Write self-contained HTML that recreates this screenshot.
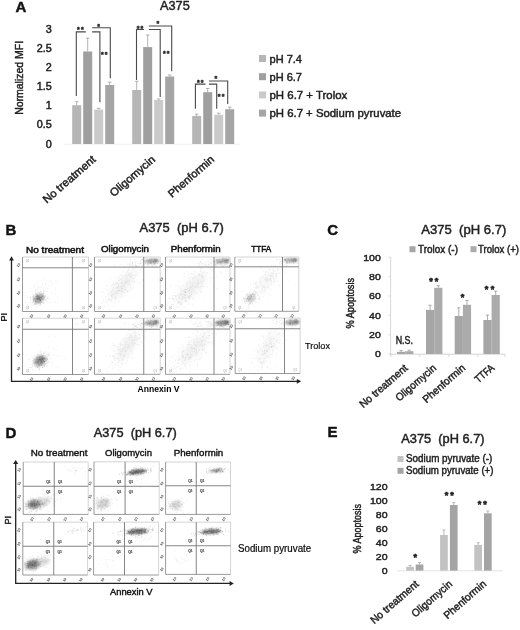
<!DOCTYPE html><html><head><meta charset="utf-8"><title>A375 figure</title><style>html,body{margin:0;padding:0;background:#fff;width:520px;height:630px;overflow:hidden}svg{display:block}</style></head><body><svg width="520" height="630" viewBox="0 0 520 630" font-family='"Liberation Sans", Arial, sans-serif'><defs><filter id="b1" x="-50%" y="-50%" width="200%" height="200%"><feGaussianBlur stdDeviation="0.9"/></filter><filter id="b2" x="-50%" y="-50%" width="200%" height="200%"><feGaussianBlur stdDeviation="1.6"/></filter><filter id="b3" x="-50%" y="-50%" width="200%" height="200%"><feGaussianBlur stdDeviation="3"/></filter></defs><rect width="520" height="630" fill="#fff"/><text x="15.60" y="11.80" font-size="15" stroke="#111" stroke-width="0.45" font-weight="bold" fill="#111">A</text>
<text x="160.00" y="9.60" font-size="13" stroke="#222" stroke-width="0.45" fill="#222" textLength="29.80" lengthAdjust="spacingAndGlyphs">A375</text>
<text x="51.80" y="33.20" font-size="10.0" stroke="#222" stroke-width="0.45" text-anchor="end" fill="#222" textLength="6.00" lengthAdjust="spacingAndGlyphs">3</text>
<text x="51.80" y="52.25" font-size="10.0" stroke="#222" stroke-width="0.45" text-anchor="end" fill="#222" textLength="15.00" lengthAdjust="spacingAndGlyphs">2.5</text>
<text x="51.80" y="71.30" font-size="10.0" stroke="#222" stroke-width="0.45" text-anchor="end" fill="#222" textLength="6.00" lengthAdjust="spacingAndGlyphs">2</text>
<text x="51.80" y="90.35" font-size="10.0" stroke="#222" stroke-width="0.45" text-anchor="end" fill="#222" textLength="15.00" lengthAdjust="spacingAndGlyphs">1.5</text>
<text x="51.80" y="109.40" font-size="10.0" stroke="#222" stroke-width="0.45" text-anchor="end" fill="#222" textLength="6.00" lengthAdjust="spacingAndGlyphs">1</text>
<text x="51.80" y="128.45" font-size="10.0" stroke="#222" stroke-width="0.45" text-anchor="end" fill="#222" textLength="15.00" lengthAdjust="spacingAndGlyphs">0.5</text>
<text x="51.80" y="147.50" font-size="10.0" stroke="#222" stroke-width="0.45" text-anchor="end" fill="#222" textLength="6.00" lengthAdjust="spacingAndGlyphs">0</text>
<text x="23.20" y="77.85" font-size="10.5" stroke="#222" stroke-width="0.45" text-anchor="middle" fill="#222" textLength="74.00" lengthAdjust="spacingAndGlyphs" transform="rotate(-90 23.20 77.85)">Normalized MFI</text>
<line x1="64.00" y1="144.30" x2="240.00" y2="144.30" stroke="#ececec" stroke-width="0.8"/>
<rect x="72.20" y="105.20" width="9.00" height="38.80" fill="#b6b6b6"/>
<line x1="76.70" y1="101.70" x2="76.70" y2="105.20" stroke="#a0a0a0" stroke-width="0.8"/>
<line x1="74.90" y1="101.70" x2="78.50" y2="101.70" stroke="#a0a0a0" stroke-width="0.8"/>
<rect x="83.20" y="51.50" width="9.00" height="92.50" fill="#9f9f9f"/>
<line x1="87.70" y1="38.20" x2="87.70" y2="51.50" stroke="#a0a0a0" stroke-width="0.8"/>
<line x1="85.90" y1="38.20" x2="89.50" y2="38.20" stroke="#a0a0a0" stroke-width="0.8"/>
<rect x="94.20" y="109.60" width="9.00" height="34.40" fill="#cacaca"/>
<line x1="98.70" y1="108.30" x2="98.70" y2="109.60" stroke="#a0a0a0" stroke-width="0.8"/>
<line x1="96.90" y1="108.30" x2="100.50" y2="108.30" stroke="#a0a0a0" stroke-width="0.8"/>
<rect x="105.20" y="85.00" width="9.00" height="59.00" fill="#a5a5a5"/>
<line x1="109.70" y1="82.10" x2="109.70" y2="85.00" stroke="#a0a0a0" stroke-width="0.8"/>
<line x1="107.90" y1="82.10" x2="111.50" y2="82.10" stroke="#a0a0a0" stroke-width="0.8"/>
<rect x="132.20" y="90.00" width="9.00" height="54.00" fill="#b6b6b6"/>
<line x1="136.70" y1="81.30" x2="136.70" y2="90.00" stroke="#a0a0a0" stroke-width="0.8"/>
<line x1="134.90" y1="81.30" x2="138.50" y2="81.30" stroke="#a0a0a0" stroke-width="0.8"/>
<rect x="143.20" y="47.10" width="9.00" height="96.90" fill="#9f9f9f"/>
<line x1="147.70" y1="35.00" x2="147.70" y2="47.10" stroke="#a0a0a0" stroke-width="0.8"/>
<line x1="145.90" y1="35.00" x2="149.50" y2="35.00" stroke="#a0a0a0" stroke-width="0.8"/>
<rect x="154.20" y="100.00" width="9.00" height="44.00" fill="#cacaca"/>
<line x1="158.70" y1="99.00" x2="158.70" y2="100.00" stroke="#a0a0a0" stroke-width="0.8"/>
<line x1="156.90" y1="99.00" x2="160.50" y2="99.00" stroke="#a0a0a0" stroke-width="0.8"/>
<rect x="165.20" y="76.50" width="9.00" height="67.50" fill="#a5a5a5"/>
<line x1="169.70" y1="75.00" x2="169.70" y2="76.50" stroke="#a0a0a0" stroke-width="0.8"/>
<line x1="167.90" y1="75.00" x2="171.50" y2="75.00" stroke="#a0a0a0" stroke-width="0.8"/>
<rect x="192.20" y="115.90" width="9.00" height="28.10" fill="#b6b6b6"/>
<line x1="196.70" y1="114.20" x2="196.70" y2="115.90" stroke="#a0a0a0" stroke-width="0.8"/>
<line x1="194.90" y1="114.20" x2="198.50" y2="114.20" stroke="#a0a0a0" stroke-width="0.8"/>
<rect x="203.20" y="92.20" width="9.00" height="51.80" fill="#9f9f9f"/>
<line x1="207.70" y1="88.50" x2="207.70" y2="92.20" stroke="#a0a0a0" stroke-width="0.8"/>
<line x1="205.90" y1="88.50" x2="209.50" y2="88.50" stroke="#a0a0a0" stroke-width="0.8"/>
<rect x="214.20" y="114.80" width="9.00" height="29.20" fill="#cacaca"/>
<line x1="218.70" y1="113.20" x2="218.70" y2="114.80" stroke="#a0a0a0" stroke-width="0.8"/>
<line x1="216.90" y1="113.20" x2="220.50" y2="113.20" stroke="#a0a0a0" stroke-width="0.8"/>
<rect x="225.20" y="109.20" width="9.00" height="34.80" fill="#a5a5a5"/>
<line x1="229.70" y1="107.20" x2="229.70" y2="109.20" stroke="#a0a0a0" stroke-width="0.8"/>
<line x1="227.90" y1="107.20" x2="231.50" y2="107.20" stroke="#a0a0a0" stroke-width="0.8"/>
<path d="M76.3 96.0V31.9H85.8M92.1 31.9H99.9V102.3" stroke="#4a4a4a" stroke-width="1.1" fill="none"/>
<path d="M92.1 27.8V27.8H110.3V78.3" stroke="#4a4a4a" stroke-width="1.1" fill="none"/>
<text x="78.45" y="31.57" font-size="7" stroke="#222" stroke-width="0.4" text-anchor="middle" font-weight="bold" fill="#222">*</text>
<text x="82.25" y="31.57" font-size="7" stroke="#222" stroke-width="0.4" text-anchor="middle" font-weight="bold" fill="#222">*</text>
<text x="98.70" y="28.57" font-size="7" stroke="#222" stroke-width="0.4" text-anchor="middle" font-weight="bold" fill="#222">*</text>
<text x="102.35" y="57.27" font-size="7" stroke="#222" stroke-width="0.4" text-anchor="middle" font-weight="bold" fill="#222">*</text>
<text x="106.15" y="57.27" font-size="7" stroke="#222" stroke-width="0.4" text-anchor="middle" font-weight="bold" fill="#222">*</text>
<path d="M136.5 80.0V29.5H144.0M148.9 29.5H160.2V97.0" stroke="#4a4a4a" stroke-width="1.1" fill="none"/>
<path d="M148.9 26.0V26.0H171.7V71.3" stroke="#4a4a4a" stroke-width="1.1" fill="none"/>
<text x="138.10" y="30.57" font-size="7" stroke="#222" stroke-width="0.4" text-anchor="middle" font-weight="bold" fill="#222">*</text>
<text x="141.90" y="30.57" font-size="7" stroke="#222" stroke-width="0.4" text-anchor="middle" font-weight="bold" fill="#222">*</text>
<text x="157.90" y="25.57" font-size="7" stroke="#222" stroke-width="0.4" text-anchor="middle" font-weight="bold" fill="#222">*</text>
<text x="164.30" y="56.07" font-size="7" stroke="#222" stroke-width="0.4" text-anchor="middle" font-weight="bold" fill="#222">*</text>
<text x="168.10" y="56.07" font-size="7" stroke="#222" stroke-width="0.4" text-anchor="middle" font-weight="bold" fill="#222">*</text>
<path d="M195.4 108.7V84.1H205.5M208.9 84.1H216.7V108.7" stroke="#4a4a4a" stroke-width="1.1" fill="none"/>
<path d="M208.9 81.0V81.0H227.7V104.0" stroke="#4a4a4a" stroke-width="1.1" fill="none"/>
<text x="198.30" y="84.57" font-size="7" stroke="#222" stroke-width="0.4" text-anchor="middle" font-weight="bold" fill="#222">*</text>
<text x="202.10" y="84.57" font-size="7" stroke="#222" stroke-width="0.4" text-anchor="middle" font-weight="bold" fill="#222">*</text>
<text x="215.90" y="81.37" font-size="7" stroke="#222" stroke-width="0.4" text-anchor="middle" font-weight="bold" fill="#222">*</text>
<text x="219.20" y="99.17" font-size="7" stroke="#222" stroke-width="0.4" text-anchor="middle" font-weight="bold" fill="#222">*</text>
<text x="223.00" y="99.17" font-size="7" stroke="#222" stroke-width="0.4" text-anchor="middle" font-weight="bold" fill="#222">*</text>
<text x="96.50" y="160.50" font-size="11" stroke="#222" stroke-width="0.45" text-anchor="end" fill="#222" textLength="66.00" lengthAdjust="spacingAndGlyphs" transform="rotate(-41 96.50 160.50)">No treatment</text>
<text x="156.00" y="160.50" font-size="11" stroke="#222" stroke-width="0.45" text-anchor="end" fill="#222" textLength="56.00" lengthAdjust="spacingAndGlyphs" transform="rotate(-41 156.00 160.50)">Oligomycin</text>
<text x="215.00" y="160.50" font-size="11" stroke="#222" stroke-width="0.45" text-anchor="end" fill="#222" textLength="57.00" lengthAdjust="spacingAndGlyphs" transform="rotate(-41 215.00 160.50)">Phenformin</text>
<rect x="259.00" y="55.00" width="7.00" height="7.00" fill="#b6b6b6"/>
<text x="269.50" y="62.50" font-size="10.8" stroke="#222" stroke-width="0.45" fill="#222" textLength="32.50" lengthAdjust="spacingAndGlyphs">pH 7.4</text>
<rect x="259.00" y="73.20" width="7.00" height="7.00" fill="#9f9f9f"/>
<text x="269.50" y="80.70" font-size="10.8" stroke="#222" stroke-width="0.45" fill="#222" textLength="32.50" lengthAdjust="spacingAndGlyphs">pH 6.7</text>
<rect x="259.00" y="91.40" width="7.00" height="7.00" fill="#cacaca"/>
<text x="269.50" y="98.90" font-size="10.8" stroke="#222" stroke-width="0.45" fill="#222" textLength="77.80" lengthAdjust="spacingAndGlyphs">pH 6.7 + Trolox</text>
<rect x="259.00" y="109.60" width="7.00" height="7.00" fill="#a5a5a5"/>
<text x="269.50" y="117.10" font-size="10.8" stroke="#222" stroke-width="0.45" fill="#222" textLength="131.60" lengthAdjust="spacingAndGlyphs">pH 6.7 + Sodium pyruvate</text>
<text x="5.50" y="234.80" font-size="15" stroke="#111" stroke-width="0.45" font-weight="bold" fill="#111">B</text>
<text x="139.50" y="231.75" font-size="12.6" stroke="#222" stroke-width="0.45" fill="#222" textLength="84.30" lengthAdjust="spacingAndGlyphs">A375  (pH 6.7)</text>
<text x="26.00" y="253.00" font-size="9.6" stroke="#1a1a1a" stroke-width="0.55" textLength="58.00" lengthAdjust="spacingAndGlyphs">No treatment</text>
<text x="101.00" y="252.20" font-size="9.6" stroke="#1a1a1a" stroke-width="0.55" textLength="48.00" lengthAdjust="spacingAndGlyphs">Oligomycin</text>
<text x="170.75" y="251.50" font-size="9.6" stroke="#1a1a1a" stroke-width="0.55" textLength="49.80" lengthAdjust="spacingAndGlyphs">Phenformin</text>
<text x="251.25" y="251.80" font-size="9.6" stroke="#1a1a1a" stroke-width="0.55" textLength="20.00" lengthAdjust="spacingAndGlyphs">TTFA</text>
<path d="M11.5 259V381.3H298" stroke="#222" stroke-width="1.3" fill="none"/>
<path d="M11.5 256.2L9.1 260.6H13.9Z" stroke="none" stroke-width="1" fill="#222"/>
<path d="M301.2 381.3L296.8 378.9V383.7Z" stroke="none" stroke-width="1" fill="#222"/>
<text x="7.20" y="317.30" font-size="9.6" text-anchor="middle" font-weight="bold" fill="#222" transform="rotate(-90 7.20 317.30)">PI</text>
<text x="137.50" y="392.20" font-size="9.4" font-weight="bold" textLength="42.00" lengthAdjust="spacingAndGlyphs">Annexin V</text>
<text x="305.00" y="349.30" font-size="9.7" stroke="#1a1a1a" stroke-width="0.2" textLength="25.00" lengthAdjust="spacingAndGlyphs">Trolox</text>
<ellipse cx="38.8" cy="298.5" rx="5.5" ry="4.2" fill="#666" fill-opacity="0.55" filter="url(#b2)" transform="rotate(-35 38.8 298.5)"/>
<path d="M39.3 299.2h.9M36.4 296.9h.9M35.6 297.1h.9M41.3 301.7h.9M36.1 298.1h.9M41.0 298.3h.9M37.5 296.0h.9M39.9 300.3h.9M33.6 300.5h.9M30.4 299.7h.9M32.4 302.1h.9M35.1 302.1h.9M39.0 297.7h.9M29.6 303.0h.9M38.8 298.9h.9M33.0 300.8h.9M34.2 298.8h.9M40.9 294.1h.9M40.2 300.7h.9M36.7 299.6h.9M39.3 298.4h.9M34.9 301.5h.9M40.6 291.6h.9M41.8 296.8h.9M40.1 304.9h.9M39.2 293.8h.9M40.0 299.7h.9M39.4 300.6h.9M39.7 300.3h.9M42.4 293.5h.9M38.7 296.9h.9M37.2 295.3h.9M36.6 299.3h.9M43.7 299.3h.9M33.1 299.6h.9M37.5 292.1h.9M37.1 299.3h.9M44.1 297.3h.9M37.1 298.3h.9M40.6 302.8h.9M36.9 298.7h.9M39.7 297.4h.9M36.2 296.2h.9M38.0 297.4h.9M43.7 297.4h.9M39.9 300.2h.9M39.5 301.9h.9M39.8 299.9h.9M35.2 302.3h.9M29.8 297.4h.9M36.3 297.0h.9M43.2 303.6h.9M35.0 298.9h.9M40.3 299.2h.9M37.9 298.4h.9M42.0 298.2h.9M35.3 300.7h.9M37.1 295.8h.9M38.2 295.8h.9M42.3 296.7h.9M38.1 296.8h.9M35.0 293.9h.9M35.7 302.0h.9M33.3 305.5h.9M34.4 304.4h.9M37.4 302.4h.9M36.6 294.4h.9M45.4 299.2h.9M38.1 298.0h.9M36.6 296.5h.9M41.5 294.6h.9M37.3 296.7h.9M34.5 296.8h.9M42.7 295.2h.9M42.0 296.3h.9M36.0 299.3h.9M37.0 299.8h.9M37.1 298.6h.9M32.9 299.7h.9M43.1 293.1h.9M35.9 301.7h.9M40.9 291.7h.9M37.0 297.4h.9M34.3 304.3h.9M38.8 298.7h.9M37.1 301.3h.9M36.8 299.4h.9M33.1 298.1h.9M42.3 294.2h.9M39.7 297.7h.9M36.5 298.3h.9M40.3 296.3h.9M38.3 298.9h.9M43.8 297.5h.9M39.1 296.2h.9M35.9 304.0h.9M41.7 295.9h.9M41.9 299.2h.9M43.1 298.9h.9M39.9 303.3h.9M36.2 303.5h.9M41.9 299.5h.9M47.5 297.8h.9M32.1 297.0h.9M39.7 294.1h.9M40.2 300.6h.9M29.8 297.1h.9M39.7 298.0h.9M38.1 299.2h.9M33.4 296.8h.9M36.6 296.5h.9M34.3 303.5h.9M39.3 299.6h.9M34.4 299.2h.9M34.0 298.6h.9M38.1 296.1h.9M40.6 298.5h.9M43.0 290.4h.9M41.6 296.2h.9M36.3 295.0h.9M38.6 301.4h.9M38.7 298.9h.9M39.8 302.0h.9M34.9 293.1h.9M33.1 295.2h.9M27.2 304.7h.9M43.3 295.6h.9M33.3 298.9h.9M42.8 296.3h.9M38.9 298.3h.9M40.3 300.4h.9M41.0 297.8h.9M36.3 302.1h.9M38.4 302.8h.9M34.4 301.1h.9M36.5 295.3h.9M47.0 298.1h.9M38.6 301.5h.9M35.5 291.2h.9M39.5 297.8h.9M37.2 295.7h.9M37.6 298.7h.9M43.3 296.6h.9M41.4 302.3h.9M36.3 298.8h.9M35.5 306.5h.9M43.5 298.5h.9M41.2 297.2h.9M39.1 297.4h.9M38.2 299.1h.9M44.7 296.4h.9M37.6 297.2h.9M39.5 303.9h.9M40.6 297.5h.9M35.8 296.6h.9M40.1 300.8h.9M37.1 298.8h.9M38.3 299.3h.9M33.2 301.6h.9M37.5 302.6h.9" stroke="#444" stroke-opacity="0.17" stroke-width="0.9" fill="none"/>
<path d="M38.7 303.0h.9M52.3 283.5h.9M38.3 299.9h.9M37.5 289.7h.9M54.6 302.8h.9M39.1 295.6h.9M35.4 303.4h.9M27.5 297.1h.9M47.7 281.9h.9M57.1 296.2h.9M46.5 296.3h.9M56.1 281.4h.9M31.4 291.6h.9M49.0 302.7h.9M45.1 283.8h.9M33.2 297.8h.9M43.3 292.0h.9M45.0 295.2h.9M39.5 296.7h.9M43.2 293.2h.9M54.3 301.8h.9M46.8 291.5h.9M30.8 307.9h.9M51.7 293.3h.9M33.2 286.8h.9M36.1 293.7h.9M57.0 303.0h.9M40.2 289.4h.9M32.8 302.2h.9M35.5 290.0h.9M37.7 288.1h.9M55.3 293.5h.9M48.2 285.5h.9M45.3 291.0h.9M37.5 295.7h.9M25.5 295.6h.9M47.2 288.9h.9M48.2 299.0h.9M25.2 301.9h.9M45.1 296.0h.9M43.7 302.9h.9M38.2 287.1h.9M38.5 305.3h.9M37.0 281.8h.9M55.0 289.5h.9M50.6 284.3h.9M34.7 290.9h.9M60.6 277.8h.9M51.2 281.3h.9M35.7 285.0h.9M43.5 302.7h.9M37.2 308.8h.9M39.9 287.2h.9M36.1 295.8h.9M39.2 292.4h.9M34.3 298.7h.9M28.3 294.7h.9M45.6 300.0h.9M30.3 304.8h.9M32.6 293.9h.9M46.2 286.7h.9M50.0 281.2h.9M43.9 291.3h.9M38.9 303.0h.9M43.5 299.2h.9M36.8 289.5h.9M41.5 295.9h.9M45.3 284.0h.9M34.0 286.0h.9M42.1 285.0h.9M27.9 306.3h.9M43.6 279.7h.9M30.3 298.0h.9M35.1 304.3h.9M32.6 296.3h.9M43.1 287.2h.9M40.9 287.0h.9M24.5 292.9h.9M54.8 281.3h.9" stroke="#888" stroke-opacity="0.17" stroke-width="0.9" fill="none"/>
<path d="M79.5 261.9h.9M79.0 262.1h.9M68.7 260.0h.9M70.0 263.5h.9M82.9 260.1h.9M69.7 261.3h.9M81.2 259.8h.9M84.2 259.8h.9" stroke="#999" stroke-opacity="0.17" stroke-width="0.9" fill="none"/>
<path d="M22.50 257.00H88.50V311.50" stroke="#cfcfcf" stroke-width="0.9" fill="none"/>
<path d="M22.50 257.00V311.50H88.50" stroke="#8e8e8e" stroke-width="0.9" fill="none"/>
<line x1="22.50" y1="267.80" x2="88.50" y2="267.80" stroke="#777" stroke-width="0.9"/>
<line x1="72.40" y1="257.00" x2="72.40" y2="311.50" stroke="#777" stroke-width="0.9"/>
<text x="20.50" y="264.19" font-size="3.4" stroke="#666" stroke-width="0.15" text-anchor="end" fill="#666" transform="rotate(-60 20.50 264.19)">10</text>
<text x="20.50" y="278.37" font-size="3.4" stroke="#666" stroke-width="0.15" text-anchor="end" fill="#666" transform="rotate(-60 20.50 278.37)">10</text>
<text x="20.50" y="291.99" font-size="3.4" stroke="#666" stroke-width="0.15" text-anchor="end" fill="#666" transform="rotate(-60 20.50 291.99)">10</text>
<text x="20.50" y="305.07" font-size="3.4" stroke="#666" stroke-width="0.15" text-anchor="end" fill="#666" transform="rotate(-60 20.50 305.07)">10</text>
<text x="33.40" y="315.30" font-size="3.4" stroke="#666" stroke-width="0.15" text-anchor="end" fill="#666" transform="rotate(-60 33.40 315.30)">10</text>
<text x="50.56" y="315.30" font-size="3.4" stroke="#666" stroke-width="0.15" text-anchor="end" fill="#666" transform="rotate(-60 50.56 315.30)">10</text>
<text x="67.06" y="315.30" font-size="3.4" stroke="#666" stroke-width="0.15" text-anchor="end" fill="#666" transform="rotate(-60 67.06 315.30)">10</text>
<text x="83.56" y="315.30" font-size="3.4" stroke="#666" stroke-width="0.15" text-anchor="end" fill="#666" transform="rotate(-60 83.56 315.30)">10</text>
<text x="27.50" y="262.00" font-size="2.8" text-anchor="middle" fill="#999">Q1</text>
<text x="83.50" y="262.00" font-size="2.8" text-anchor="middle" fill="#999">Q1</text>
<text x="27.50" y="309.00" font-size="2.8" text-anchor="middle" fill="#999">Q1</text>
<text x="83.50" y="309.00" font-size="2.8" text-anchor="middle" fill="#999">Q1</text>
<ellipse cx="151.0" cy="261.5" rx="7.0" ry="2.6" fill="#999" fill-opacity="0.6" filter="url(#b1)" transform="rotate(0 151.0 261.5)"/>
<ellipse cx="156.0" cy="260.3" rx="2.5" ry="1.3" fill="#333" fill-opacity="0.6" filter="url(#b1)" transform="rotate(0 156.0 260.3)"/>
<ellipse cx="122.0" cy="286.0" rx="18.0" ry="5.5" fill="#ccc" fill-opacity="0.3" filter="url(#b3)" transform="rotate(-48 122.0 286.0)"/>
<path d="M112.0 284.7h.9M114.6 305.6h.9M131.3 272.3h.9M102.6 292.0h.9M116.6 291.7h.9M120.5 286.9h.9M106.7 302.4h.9M126.8 291.3h.9M111.5 297.2h.9M110.8 292.3h.9M117.0 283.0h.9M129.7 276.6h.9M124.6 281.6h.9M108.4 293.3h.9M116.6 287.5h.9M125.1 282.5h.9M104.0 306.5h.9M101.5 303.7h.9M109.6 282.7h.9M123.8 285.2h.9M118.2 286.8h.9M113.0 288.0h.9M116.1 288.0h.9M118.3 280.2h.9M125.7 283.0h.9M118.3 286.5h.9M122.6 271.7h.9M129.2 280.1h.9M127.4 283.2h.9M112.2 294.8h.9M132.3 278.1h.9M118.6 277.4h.9M134.0 282.3h.9M136.5 271.9h.9M109.7 278.9h.9M120.9 274.9h.9M102.1 302.9h.9M137.5 265.7h.9M132.8 288.4h.9M142.9 261.9h.9M113.6 284.9h.9M114.4 297.9h.9M127.7 280.5h.9M132.2 268.4h.9M124.2 289.5h.9M134.2 281.3h.9M126.0 279.0h.9M122.7 276.9h.9M122.5 288.0h.9M97.8 309.9h.9M110.4 291.7h.9M135.6 274.1h.9M113.9 294.9h.9M120.8 264.6h.9M122.6 289.9h.9M138.1 282.1h.9M138.5 270.3h.9M129.3 284.4h.9M114.6 293.9h.9M142.1 279.7h.9M119.7 288.2h.9M130.1 288.0h.9M127.6 291.9h.9M108.3 299.7h.9M122.6 291.8h.9M129.8 264.9h.9M111.1 300.8h.9M107.0 290.2h.9M137.9 272.4h.9M126.7 276.9h.9M134.8 269.8h.9M132.9 266.3h.9M111.4 299.4h.9M115.4 298.9h.9M121.7 278.7h.9M121.5 283.6h.9M131.7 270.1h.9M121.1 297.0h.9M123.7 285.9h.9M142.0 262.8h.9M109.4 300.9h.9M124.7 276.2h.9M127.8 273.3h.9M121.0 288.9h.9M128.9 275.6h.9M125.0 275.3h.9M113.0 287.6h.9M137.0 269.1h.9M110.7 295.7h.9M121.9 291.9h.9M96.4 305.9h.9M127.3 300.9h.9M134.3 271.4h.9M139.9 283.0h.9M117.4 288.1h.9M140.2 269.8h.9M128.9 274.2h.9M154.7 263.7h.9M132.4 280.1h.9M121.2 290.5h.9M129.7 274.6h.9M110.7 295.8h.9M112.5 293.7h.9M129.9 286.3h.9M103.8 302.1h.9M114.9 277.4h.9M120.4 275.4h.9M125.5 281.2h.9M117.5 290.4h.9M112.3 291.8h.9M154.8 265.9h.9M142.6 269.0h.9M118.8 301.4h.9M121.0 286.6h.9M118.5 290.7h.9M115.8 292.2h.9M106.0 300.7h.9M121.0 291.5h.9M126.9 271.4h.9M123.0 292.5h.9M126.1 282.4h.9M140.0 260.4h.9M121.0 282.9h.9M110.9 294.0h.9M133.4 278.4h.9M134.2 259.5h.9M130.8 273.8h.9M115.3 297.9h.9M101.2 292.0h.9M110.9 286.0h.9M114.8 297.0h.9M132.7 287.2h.9M113.1 283.3h.9M108.1 293.9h.9M107.5 305.7h.9M105.3 288.3h.9M130.9 275.2h.9M127.2 281.1h.9M130.6 276.8h.9M140.3 269.2h.9M128.9 281.7h.9M101.8 307.0h.9M119.4 290.6h.9M118.4 280.0h.9M117.9 284.7h.9M120.6 282.3h.9M126.4 275.1h.9M125.5 290.2h.9M112.4 289.8h.9M127.8 270.1h.9M115.4 293.1h.9M105.0 297.0h.9M107.0 285.3h.9M101.0 306.0h.9M123.2 283.1h.9M135.0 276.2h.9M117.3 283.9h.9M128.1 274.5h.9M103.1 300.4h.9M142.3 265.3h.9M135.6 267.0h.9M132.1 269.8h.9M130.1 297.5h.9M130.2 272.8h.9M122.2 288.5h.9M136.2 266.2h.9M122.7 286.2h.9M140.9 267.6h.9M128.4 269.9h.9M142.2 280.8h.9M133.4 275.4h.9M131.4 290.3h.9M109.1 299.4h.9M131.2 281.9h.9M117.4 293.6h.9M118.8 290.6h.9M115.6 283.8h.9M125.3 289.5h.9M108.1 299.5h.9M126.5 272.2h.9M120.1 279.4h.9M146.6 277.6h.9M132.4 275.4h.9M129.7 290.2h.9M108.7 309.5h.9M127.1 291.9h.9M121.8 280.7h.9M128.7 284.6h.9M124.5 287.3h.9M106.3 285.9h.9M136.9 275.2h.9M124.3 284.0h.9M134.0 268.9h.9M111.8 295.8h.9M132.2 263.2h.9M135.3 265.9h.9M112.4 307.0h.9M115.4 282.7h.9M121.0 294.8h.9M136.2 266.7h.9" stroke="#999" stroke-opacity="0.20" stroke-width="0.9" fill="none"/>
<path d="M135.3 265.4h.9M126.8 264.7h.9M131.7 262.9h.9M128.1 264.1h.9M132.2 262.9h.9M128.6 266.2h.9M133.7 265.8h.9M141.6 265.2h.9M150.2 262.3h.9M138.5 263.4h.9M146.8 267.4h.9M116.4 262.1h.9M137.3 265.6h.9M137.9 263.9h.9M135.6 265.3h.9M131.4 266.1h.9M113.9 265.3h.9M123.7 265.9h.9M130.2 262.2h.9M135.0 262.2h.9M124.7 260.9h.9M131.8 265.0h.9M140.2 263.7h.9M140.4 264.0h.9M131.3 265.1h.9M140.5 263.3h.9M130.0 263.7h.9M132.7 262.2h.9M140.2 263.2h.9M135.7 262.3h.9M134.9 264.8h.9M128.6 268.0h.9M135.0 267.6h.9M139.7 262.7h.9M128.9 264.9h.9M132.5 264.1h.9M129.7 260.4h.9M130.2 259.6h.9M135.0 262.5h.9M126.3 263.6h.9" stroke="#999" stroke-opacity="0.20" stroke-width="0.9" fill="none"/>
<path d="M152.4 258.9h.9M142.3 259.6h.9M140.8 259.8h.9M154.3 259.0h.9M152.5 260.9h.9M150.7 262.5h.9M151.6 259.7h.9M153.9 261.1h.9M155.2 261.4h.9M149.5 263.1h.9M149.2 260.1h.9M149.7 259.0h.9M151.6 265.9h.9M156.7 259.5h.9M146.6 260.8h.9M156.0 260.0h.9M147.5 263.1h.9M155.3 260.8h.9M145.4 258.7h.9M154.7 260.4h.9M153.4 264.9h.9M156.9 259.4h.9M155.3 263.6h.9M147.3 259.8h.9M150.5 258.6h.9M145.5 261.0h.9M149.9 261.8h.9M152.4 261.1h.9M151.0 260.2h.9M151.7 261.9h.9M146.4 260.3h.9M155.0 262.1h.9M147.6 265.2h.9M152.5 266.0h.9M154.9 261.9h.9M150.0 260.5h.9M149.9 260.5h.9M154.7 260.8h.9M148.8 259.3h.9M150.8 259.9h.9M150.1 263.4h.9M152.8 262.4h.9M152.8 261.6h.9M150.4 260.9h.9M154.8 259.5h.9M157.7 261.6h.9M147.3 260.6h.9M147.6 261.8h.9M147.4 263.6h.9M150.8 263.4h.9M154.2 259.1h.9M147.2 264.7h.9M152.6 261.5h.9M156.3 265.9h.9M157.5 261.8h.9M152.8 262.6h.9M147.9 259.6h.9M151.3 259.8h.9M150.7 261.7h.9M150.4 261.2h.9M153.2 263.4h.9M148.5 260.0h.9M142.8 259.8h.9M153.7 261.6h.9M145.9 260.8h.9M151.2 262.4h.9M148.0 261.0h.9M141.9 259.4h.9M149.3 261.9h.9M149.1 260.0h.9M150.7 261.5h.9M150.6 258.1h.9M150.3 260.0h.9M148.3 261.9h.9M154.2 263.1h.9M148.5 263.2h.9M156.9 263.5h.9M157.9 261.2h.9M150.1 263.0h.9M144.2 261.9h.9M148.3 260.8h.9M142.3 259.9h.9M150.9 263.1h.9M156.0 261.4h.9M150.1 260.0h.9M153.0 261.1h.9M154.0 264.7h.9M150.8 258.8h.9M146.7 258.9h.9M145.0 263.8h.9M152.1 258.8h.9M154.3 263.8h.9M149.2 260.3h.9M149.3 262.0h.9M154.2 263.6h.9M157.1 263.6h.9M157.8 262.7h.9M143.3 261.3h.9M152.6 260.8h.9" stroke="#666" stroke-opacity="0.20" stroke-width="0.9" fill="none"/>
<path d="M94.50 257.00H160.20V311.50" stroke="#cfcfcf" stroke-width="0.9" fill="none"/>
<path d="M94.50 257.00V311.50H160.20" stroke="#8e8e8e" stroke-width="0.9" fill="none"/>
<line x1="94.50" y1="267.10" x2="160.20" y2="267.10" stroke="#777" stroke-width="0.9"/>
<line x1="143.75" y1="257.00" x2="143.75" y2="311.50" stroke="#777" stroke-width="0.9"/>
<text x="92.50" y="264.19" font-size="3.4" stroke="#666" stroke-width="0.15" text-anchor="end" fill="#666" transform="rotate(-60 92.50 264.19)">10</text>
<text x="92.50" y="278.37" font-size="3.4" stroke="#666" stroke-width="0.15" text-anchor="end" fill="#666" transform="rotate(-60 92.50 278.37)">10</text>
<text x="92.50" y="291.99" font-size="3.4" stroke="#666" stroke-width="0.15" text-anchor="end" fill="#666" transform="rotate(-60 92.50 291.99)">10</text>
<text x="92.50" y="305.07" font-size="3.4" stroke="#666" stroke-width="0.15" text-anchor="end" fill="#666" transform="rotate(-60 92.50 305.07)">10</text>
<text x="105.36" y="315.30" font-size="3.4" stroke="#666" stroke-width="0.15" text-anchor="end" fill="#666" transform="rotate(-60 105.36 315.30)">10</text>
<text x="122.44" y="315.30" font-size="3.4" stroke="#666" stroke-width="0.15" text-anchor="end" fill="#666" transform="rotate(-60 122.44 315.30)">10</text>
<text x="138.86" y="315.30" font-size="3.4" stroke="#666" stroke-width="0.15" text-anchor="end" fill="#666" transform="rotate(-60 138.86 315.30)">10</text>
<text x="155.29" y="315.30" font-size="3.4" stroke="#666" stroke-width="0.15" text-anchor="end" fill="#666" transform="rotate(-60 155.29 315.30)">10</text>
<text x="99.50" y="262.00" font-size="2.8" text-anchor="middle" fill="#999">Q1</text>
<text x="155.20" y="262.00" font-size="2.8" text-anchor="middle" fill="#999">Q1</text>
<text x="99.50" y="309.00" font-size="2.8" text-anchor="middle" fill="#999">Q1</text>
<text x="155.20" y="309.00" font-size="2.8" text-anchor="middle" fill="#999">Q1</text>
<ellipse cx="222.0" cy="261.4" rx="7.0" ry="2.6" fill="#999" fill-opacity="0.6" filter="url(#b1)" transform="rotate(0 222.0 261.4)"/>
<ellipse cx="227.0" cy="260.3" rx="2.5" ry="1.3" fill="#333" fill-opacity="0.6" filter="url(#b1)" transform="rotate(0 227.0 260.3)"/>
<ellipse cx="192.0" cy="287.0" rx="19.0" ry="6.0" fill="#ccc" fill-opacity="0.3" filter="url(#b3)" transform="rotate(-45 192.0 287.0)"/>
<path d="M204.0 271.9h.9M184.4 306.9h.9M202.8 278.0h.9M210.3 277.7h.9M186.6 271.5h.9M180.0 295.1h.9M178.2 302.5h.9M207.6 267.2h.9M180.1 288.5h.9M197.3 285.3h.9M184.9 300.8h.9M180.8 290.3h.9M197.9 287.6h.9M184.0 297.8h.9M202.6 300.4h.9M187.4 303.4h.9M190.7 287.2h.9M206.5 280.1h.9M212.2 269.6h.9M180.8 293.6h.9M202.0 281.9h.9M214.5 268.0h.9M214.2 277.7h.9M188.1 278.3h.9M168.4 298.4h.9M212.0 259.8h.9M212.8 271.2h.9M221.7 265.8h.9M189.6 287.7h.9M194.0 286.5h.9M184.0 294.7h.9M192.0 279.3h.9M198.3 287.8h.9M194.4 291.1h.9M185.7 298.6h.9M183.7 273.3h.9M181.7 299.2h.9M216.3 265.1h.9M189.8 277.2h.9M220.9 273.4h.9M191.5 285.6h.9M213.1 270.5h.9M183.0 307.3h.9M172.8 304.4h.9M199.9 286.6h.9M199.8 282.5h.9M175.2 292.8h.9M189.9 283.1h.9M167.2 301.0h.9M176.9 286.4h.9M196.4 286.0h.9M185.8 301.0h.9M187.4 288.8h.9M215.9 260.2h.9M169.2 298.6h.9M198.3 283.3h.9M167.5 303.2h.9M202.4 281.5h.9M185.1 299.2h.9M192.9 270.9h.9M189.1 293.4h.9M174.4 286.4h.9M191.0 294.4h.9M211.4 278.0h.9M207.2 273.0h.9M177.4 306.9h.9M170.7 286.9h.9M220.5 272.0h.9M215.0 263.8h.9M173.4 304.1h.9M189.2 281.4h.9M189.1 289.0h.9M226.2 263.8h.9M196.5 292.8h.9M179.0 297.1h.9M200.2 268.2h.9M182.3 285.5h.9M200.7 292.2h.9M181.8 299.1h.9M173.8 295.4h.9M184.4 300.6h.9M190.4 295.4h.9M197.5 283.9h.9M198.6 275.5h.9M178.7 285.7h.9M179.4 287.5h.9M185.8 285.1h.9M195.4 287.4h.9M167.5 304.6h.9M181.2 304.2h.9M221.0 265.3h.9M193.0 298.4h.9M170.5 284.9h.9M177.4 303.0h.9M189.2 290.6h.9M167.1 306.1h.9M199.9 281.0h.9M210.1 269.5h.9M187.7 275.0h.9M180.3 303.3h.9M186.7 283.5h.9M184.6 290.0h.9M188.0 297.4h.9M199.2 274.9h.9M179.7 301.7h.9M194.9 292.8h.9M190.8 286.8h.9M175.4 295.9h.9M175.4 300.2h.9M188.8 296.5h.9M185.2 292.1h.9M207.1 287.1h.9M210.2 281.5h.9M191.4 293.7h.9M216.7 276.7h.9M201.5 284.0h.9M208.2 265.2h.9M194.4 277.0h.9M179.1 294.6h.9M190.5 289.8h.9M192.7 274.0h.9M227.1 261.9h.9M201.5 274.4h.9M193.0 290.7h.9M191.0 273.4h.9M216.0 288.4h.9M197.1 280.9h.9M207.7 261.0h.9M200.9 290.9h.9M187.2 288.2h.9M191.8 283.3h.9M211.6 259.4h.9M199.9 268.2h.9M201.8 276.3h.9M173.8 301.3h.9M210.6 258.6h.9M182.1 309.5h.9M200.5 292.0h.9M193.1 278.2h.9M196.4 293.4h.9M206.4 272.6h.9M192.3 285.8h.9M191.6 304.3h.9M187.2 282.0h.9M187.9 297.5h.9M201.2 276.6h.9M181.9 297.3h.9M202.1 272.7h.9M203.0 286.6h.9M202.0 277.2h.9M189.8 295.6h.9M194.5 277.0h.9M192.4 285.2h.9M185.8 289.4h.9M191.8 288.1h.9M177.4 307.1h.9M172.5 304.6h.9M208.9 264.1h.9M188.9 299.5h.9M184.8 291.6h.9M200.0 288.2h.9M171.9 297.6h.9M175.3 296.4h.9M192.7 278.5h.9M195.6 286.9h.9M181.5 298.7h.9M218.3 263.5h.9M182.0 296.4h.9M179.2 302.1h.9M201.5 270.3h.9M193.6 295.0h.9M185.3 295.4h.9M172.9 299.0h.9M193.5 304.0h.9M183.7 290.8h.9M182.9 294.7h.9M202.5 278.1h.9M214.7 266.7h.9M194.9 271.9h.9M189.8 288.6h.9M179.3 281.5h.9M203.4 272.3h.9M184.4 292.4h.9M190.3 292.1h.9M169.2 301.9h.9M196.9 283.3h.9M184.0 290.2h.9M179.4 299.1h.9M205.0 265.0h.9M218.2 268.0h.9M188.6 297.0h.9M171.1 304.4h.9M185.0 289.6h.9M184.4 276.5h.9M193.3 273.6h.9M180.4 295.1h.9M169.0 298.4h.9M177.0 301.9h.9M203.2 280.6h.9M173.9 298.4h.9M180.2 302.6h.9M181.5 290.9h.9M201.4 286.3h.9M201.6 286.4h.9M199.2 290.2h.9M210.1 268.1h.9M214.1 266.3h.9M189.4 281.8h.9M191.0 294.6h.9M175.3 309.2h.9M198.4 283.0h.9M198.4 274.1h.9M183.3 275.6h.9M199.2 274.2h.9M197.1 266.2h.9M201.3 275.7h.9M200.1 271.1h.9M192.3 305.7h.9" stroke="#999" stroke-opacity="0.20" stroke-width="0.9" fill="none"/>
<path d="M176.4 299.0h.9M178.1 295.9h.9M191.9 298.7h.9M174.3 295.4h.9M190.2 296.9h.9M188.8 298.4h.9M177.6 300.8h.9M172.0 299.0h.9M184.8 292.2h.9M192.7 289.4h.9M181.1 302.9h.9M191.5 292.5h.9M177.4 303.8h.9M187.1 291.2h.9M181.1 304.1h.9M179.8 294.1h.9M178.3 297.1h.9M183.6 297.2h.9M189.1 295.7h.9M175.9 305.3h.9M187.3 295.9h.9M185.3 292.3h.9M180.0 304.5h.9M171.6 295.5h.9M184.9 291.8h.9M177.0 294.9h.9M172.9 299.6h.9M181.3 300.5h.9M173.4 309.2h.9M173.8 299.3h.9M184.9 295.2h.9M179.7 309.6h.9M178.7 302.1h.9M186.5 301.6h.9M182.5 302.8h.9M181.5 304.3h.9M177.6 299.8h.9M191.5 291.7h.9M188.3 304.4h.9M181.6 294.1h.9M182.3 291.5h.9M190.3 297.3h.9M177.8 298.3h.9M182.8 297.4h.9M179.0 303.5h.9M171.5 304.5h.9M179.4 298.7h.9M180.3 293.1h.9M184.2 295.2h.9M175.5 296.3h.9M177.5 303.7h.9M177.7 301.9h.9M189.5 297.1h.9M188.4 291.1h.9M179.6 305.3h.9M186.3 300.2h.9M185.1 301.6h.9M187.7 296.9h.9M185.3 297.3h.9M183.7 297.8h.9" stroke="#888" stroke-opacity="0.17" stroke-width="0.9" fill="none"/>
<path d="M210.9 263.0h.9M216.9 263.8h.9M210.9 263.8h.9M201.0 268.1h.9M200.5 261.4h.9M197.3 263.4h.9M220.2 264.4h.9M210.5 262.0h.9M205.8 265.3h.9M217.4 262.6h.9M207.8 264.6h.9M194.8 264.0h.9M200.9 259.3h.9M207.8 265.1h.9M199.5 261.3h.9M214.8 264.5h.9M211.1 266.8h.9M198.8 265.6h.9M201.1 263.9h.9M202.3 264.0h.9M211.9 264.2h.9M201.8 263.4h.9M205.7 262.2h.9M199.0 263.9h.9M198.5 263.8h.9M198.1 268.0h.9M213.6 264.9h.9M202.6 268.4h.9M205.6 263.8h.9M205.4 264.6h.9M214.3 264.0h.9M219.8 262.2h.9M208.6 262.0h.9M217.5 263.3h.9M202.5 265.8h.9M213.0 261.8h.9M200.2 261.2h.9M204.1 263.8h.9M200.2 262.6h.9M199.9 262.5h.9" stroke="#999" stroke-opacity="0.20" stroke-width="0.9" fill="none"/>
<path d="M224.6 264.2h.9M212.3 261.3h.9M219.9 262.4h.9M217.2 261.2h.9M216.8 262.8h.9M222.5 261.2h.9M223.9 261.1h.9M214.2 262.6h.9M223.4 261.2h.9M226.9 263.7h.9M216.5 260.1h.9M218.3 259.4h.9M218.8 260.6h.9M214.1 261.6h.9M215.6 259.3h.9M226.6 260.3h.9M221.6 262.6h.9M226.1 260.9h.9M222.2 260.0h.9M216.5 261.5h.9M225.6 262.4h.9M219.3 261.3h.9M215.6 261.9h.9M222.8 266.4h.9M218.6 261.7h.9M215.7 259.9h.9M220.2 262.1h.9M221.2 259.9h.9M225.9 260.5h.9M219.5 259.0h.9M218.1 262.7h.9M213.9 261.4h.9M225.6 260.8h.9M223.2 259.5h.9M223.2 258.3h.9M216.8 263.3h.9M228.2 260.4h.9M221.1 261.5h.9M224.1 258.7h.9M226.7 263.9h.9M216.3 259.1h.9M223.8 260.3h.9M210.1 263.0h.9M222.8 260.6h.9M218.2 261.7h.9M216.8 260.1h.9M223.9 260.5h.9M219.7 264.5h.9M226.3 262.9h.9M224.6 262.4h.9M220.7 259.0h.9M220.3 262.4h.9M222.0 260.9h.9M218.3 259.4h.9M222.3 258.4h.9M222.6 261.5h.9M218.7 259.7h.9M215.1 264.9h.9M215.3 264.3h.9M225.0 260.8h.9M216.2 263.4h.9M220.5 263.4h.9M223.7 265.1h.9M219.1 262.5h.9M215.7 265.3h.9M221.4 261.2h.9M221.9 262.6h.9M227.2 262.4h.9M220.5 261.6h.9M222.1 259.9h.9M228.1 259.0h.9M227.9 263.2h.9M221.5 260.1h.9M220.9 262.4h.9M225.7 262.0h.9M227.0 260.5h.9M223.2 258.7h.9M225.8 261.8h.9M219.9 263.6h.9M222.2 258.9h.9M227.3 266.0h.9M219.4 261.6h.9M220.7 262.1h.9M225.2 263.8h.9M217.1 264.3h.9M217.3 262.0h.9M227.8 262.8h.9M217.3 260.2h.9M219.7 261.4h.9M227.7 259.2h.9M224.3 262.6h.9M224.8 262.3h.9M226.3 262.5h.9" stroke="#666" stroke-opacity="0.20" stroke-width="0.9" fill="none"/>
<path d="M165.50 257.00H230.00V311.50" stroke="#cfcfcf" stroke-width="0.9" fill="none"/>
<path d="M165.50 257.00V311.50H230.00" stroke="#8e8e8e" stroke-width="0.9" fill="none"/>
<line x1="165.50" y1="267.00" x2="230.00" y2="267.00" stroke="#777" stroke-width="0.9"/>
<line x1="214.00" y1="257.00" x2="214.00" y2="311.50" stroke="#777" stroke-width="0.9"/>
<text x="163.50" y="264.19" font-size="3.4" stroke="#666" stroke-width="0.15" text-anchor="end" fill="#666" transform="rotate(-60 163.50 264.19)">10</text>
<text x="163.50" y="278.37" font-size="3.4" stroke="#666" stroke-width="0.15" text-anchor="end" fill="#666" transform="rotate(-60 163.50 278.37)">10</text>
<text x="163.50" y="291.99" font-size="3.4" stroke="#666" stroke-width="0.15" text-anchor="end" fill="#666" transform="rotate(-60 163.50 291.99)">10</text>
<text x="163.50" y="305.07" font-size="3.4" stroke="#666" stroke-width="0.15" text-anchor="end" fill="#666" transform="rotate(-60 163.50 305.07)">10</text>
<text x="176.18" y="315.30" font-size="3.4" stroke="#666" stroke-width="0.15" text-anchor="end" fill="#666" transform="rotate(-60 176.18 315.30)">10</text>
<text x="192.94" y="315.30" font-size="3.4" stroke="#666" stroke-width="0.15" text-anchor="end" fill="#666" transform="rotate(-60 192.94 315.30)">10</text>
<text x="209.07" y="315.30" font-size="3.4" stroke="#666" stroke-width="0.15" text-anchor="end" fill="#666" transform="rotate(-60 209.07 315.30)">10</text>
<text x="225.19" y="315.30" font-size="3.4" stroke="#666" stroke-width="0.15" text-anchor="end" fill="#666" transform="rotate(-60 225.19 315.30)">10</text>
<text x="170.50" y="262.00" font-size="2.8" text-anchor="middle" fill="#999">Q1</text>
<text x="225.00" y="262.00" font-size="2.8" text-anchor="middle" fill="#999">Q1</text>
<text x="170.50" y="309.00" font-size="2.8" text-anchor="middle" fill="#999">Q1</text>
<text x="225.00" y="309.00" font-size="2.8" text-anchor="middle" fill="#999">Q1</text>
<ellipse cx="290.5" cy="260.5" rx="6.5" ry="2.5" fill="#999" fill-opacity="0.6" filter="url(#b1)" transform="rotate(0 290.5 260.5)"/>
<ellipse cx="295.0" cy="259.8" rx="2.5" ry="1.3" fill="#333" fill-opacity="0.6" filter="url(#b1)" transform="rotate(0 295.0 259.8)"/>
<ellipse cx="250.5" cy="298.0" rx="5.0" ry="3.5" fill="#999" fill-opacity="0.4" filter="url(#b2)" transform="rotate(-40 250.5 298.0)"/>
<ellipse cx="266.0" cy="282.0" rx="14.0" ry="5.0" fill="#ddd" fill-opacity="0.3" filter="url(#b3)" transform="rotate(-50 266.0 282.0)"/>
<path d="M254.0 294.1h.9M247.9 296.6h.9M244.1 302.0h.9M249.3 300.8h.9M248.6 304.9h.9M250.9 296.8h.9M246.9 298.1h.9M246.1 299.7h.9M250.2 297.6h.9M245.7 301.1h.9M248.1 300.6h.9M257.3 294.5h.9M246.6 295.3h.9M243.1 298.0h.9M251.3 294.5h.9M249.6 296.5h.9M253.3 300.8h.9M247.8 299.0h.9M249.6 301.9h.9M245.3 298.2h.9M243.7 298.5h.9M256.6 302.3h.9M249.2 302.6h.9M249.3 295.0h.9M249.2 298.2h.9M251.9 303.9h.9M245.3 303.7h.9M250.5 295.9h.9M252.5 299.5h.9M251.7 298.5h.9M249.0 291.9h.9M259.1 299.1h.9M255.3 297.7h.9M246.0 301.4h.9M247.0 298.8h.9M252.0 293.8h.9M246.7 294.2h.9M250.2 298.6h.9M247.0 298.3h.9M254.1 290.6h.9M245.8 299.0h.9M258.0 299.4h.9M250.2 295.6h.9M251.1 301.4h.9M250.3 303.5h.9M255.0 294.5h.9M253.8 297.9h.9M253.4 291.7h.9M253.4 294.2h.9M248.3 300.2h.9M248.1 296.4h.9M243.9 300.1h.9M258.5 298.5h.9M254.6 298.9h.9M248.8 299.2h.9M249.4 295.0h.9M247.6 300.8h.9M247.6 296.5h.9M251.2 296.4h.9M253.6 295.4h.9M249.8 299.0h.9M248.8 297.0h.9M250.6 300.6h.9M254.8 299.1h.9M244.6 301.5h.9M249.5 299.4h.9M248.2 298.1h.9M253.2 296.4h.9M249.3 303.9h.9M252.5 294.2h.9M251.7 294.3h.9M253.6 294.6h.9M247.4 299.3h.9M248.5 300.4h.9M251.1 297.6h.9M242.2 291.6h.9M247.4 293.7h.9M253.3 299.8h.9M250.6 296.5h.9M249.7 298.2h.9M247.8 298.2h.9M249.8 302.9h.9M252.2 300.1h.9M249.9 298.8h.9M250.8 299.4h.9M253.5 296.4h.9M247.0 298.1h.9M255.1 293.1h.9M252.2 301.9h.9M254.8 296.3h.9" stroke="#666" stroke-opacity="0.20" stroke-width="0.9" fill="none"/>
<path d="M270.1 295.4h.9M272.9 278.0h.9M258.5 279.9h.9M251.3 302.7h.9M269.9 275.5h.9M246.2 294.4h.9M256.4 282.1h.9M281.4 272.6h.9M255.4 287.8h.9M267.5 287.7h.9M275.7 275.0h.9M271.1 281.0h.9M255.1 284.2h.9M290.7 262.6h.9M270.6 267.2h.9M267.2 278.7h.9M266.3 280.2h.9M270.8 273.2h.9M277.4 270.3h.9M262.0 285.9h.9M263.7 291.0h.9M263.8 286.9h.9M255.5 282.9h.9M273.0 265.4h.9M275.9 273.5h.9M242.2 303.1h.9M256.6 286.8h.9M254.4 301.6h.9M264.6 286.7h.9M261.9 289.2h.9M256.7 292.8h.9M273.3 273.7h.9M256.3 285.2h.9M269.4 280.7h.9M259.9 283.3h.9M282.1 282.1h.9M263.6 287.5h.9M260.8 268.3h.9M264.8 277.9h.9M281.9 261.0h.9M255.7 292.6h.9M265.9 277.8h.9M260.2 278.4h.9M266.2 287.8h.9M273.9 281.8h.9M284.8 272.5h.9M278.8 265.9h.9M269.8 278.8h.9M270.5 278.2h.9M248.4 286.6h.9M250.0 285.3h.9M266.8 281.0h.9M248.2 308.6h.9M277.0 269.7h.9M293.5 263.7h.9M255.2 302.9h.9M273.0 276.9h.9M274.7 266.1h.9M255.6 288.0h.9M256.4 292.7h.9M244.3 299.8h.9M272.8 273.4h.9M263.4 270.4h.9M254.3 291.6h.9M264.2 279.6h.9M277.2 268.2h.9M266.3 281.8h.9M272.8 270.2h.9M281.5 267.1h.9M268.0 279.9h.9M276.2 277.7h.9M279.0 269.4h.9M277.2 269.6h.9M281.2 263.7h.9M262.8 276.7h.9M260.2 282.0h.9M248.9 306.6h.9M268.5 294.0h.9M244.5 290.1h.9M265.5 279.9h.9M252.7 281.2h.9M277.6 281.2h.9M268.1 297.8h.9M270.6 275.1h.9M281.5 267.6h.9M261.5 292.9h.9M252.9 283.7h.9M259.9 292.0h.9M241.8 300.3h.9M257.9 287.6h.9M271.2 284.6h.9M262.1 290.5h.9M269.2 269.8h.9M265.2 275.6h.9M280.7 268.0h.9M261.1 277.5h.9M264.5 277.8h.9M274.2 271.3h.9M259.6 296.8h.9M272.5 269.6h.9M279.0 264.1h.9M262.7 286.9h.9M255.1 291.5h.9M269.9 289.3h.9M283.3 259.3h.9M285.5 258.4h.9M274.0 279.3h.9M278.8 285.5h.9M264.4 274.6h.9M280.4 261.7h.9M250.8 276.8h.9M281.4 270.1h.9M279.5 273.5h.9M274.6 266.0h.9M265.7 290.5h.9M265.7 272.0h.9M269.7 276.2h.9M257.7 295.3h.9M255.0 282.8h.9M259.2 303.9h.9M248.4 304.8h.9M275.9 275.2h.9M249.8 298.8h.9M270.8 282.5h.9M253.7 287.6h.9M282.5 271.0h.9M268.2 274.7h.9M271.4 276.4h.9M271.4 265.8h.9M266.8 279.8h.9M253.3 298.8h.9M264.9 280.2h.9M265.4 271.7h.9M267.0 284.2h.9M273.6 281.3h.9M245.6 294.6h.9M270.7 280.0h.9M258.4 297.3h.9M250.0 289.5h.9M276.9 273.4h.9M276.9 261.0h.9M254.5 306.8h.9M286.0 262.2h.9M269.4 279.2h.9M263.5 297.0h.9M276.0 274.0h.9M274.6 279.9h.9M275.0 277.0h.9M253.7 300.7h.9M267.8 286.7h.9M280.1 270.1h.9M248.2 307.2h.9M248.4 296.6h.9M271.6 273.1h.9M287.9 280.3h.9M278.3 273.0h.9M252.6 293.0h.9M251.0 295.8h.9M250.1 295.8h.9M259.6 281.8h.9M243.5 298.3h.9M271.8 275.6h.9M282.5 270.4h.9M264.4 289.1h.9M279.8 263.9h.9M253.2 300.2h.9M240.2 306.7h.9M275.4 271.3h.9M263.6 292.2h.9M254.4 298.0h.9M256.7 286.5h.9M267.9 272.1h.9M268.8 269.3h.9M250.2 302.0h.9" stroke="#999" stroke-opacity="0.20" stroke-width="0.9" fill="none"/>
<path d="M293.4 258.2h.9M295.9 259.1h.9M290.7 261.2h.9M287.9 258.7h.9M281.5 258.0h.9M292.7 259.9h.9M284.3 259.6h.9M287.1 262.9h.9M292.3 260.6h.9M284.1 259.6h.9M288.9 261.1h.9M292.8 260.9h.9M291.1 258.7h.9M279.2 259.6h.9M285.2 259.3h.9M288.6 258.3h.9M284.4 260.3h.9M290.6 259.3h.9M292.5 260.1h.9M284.9 260.6h.9M295.8 263.0h.9M288.7 260.1h.9M293.0 260.6h.9M289.1 262.8h.9M286.4 258.6h.9M294.0 261.8h.9M295.5 258.6h.9M295.4 261.4h.9M291.1 260.0h.9M282.1 259.2h.9M295.6 259.7h.9M286.4 262.1h.9M294.9 262.3h.9M286.1 260.4h.9M295.2 259.3h.9M286.3 262.0h.9M284.9 260.3h.9M293.1 260.2h.9M286.5 260.8h.9M285.2 260.4h.9M286.8 265.3h.9M294.1 259.0h.9M285.0 259.7h.9M281.8 259.2h.9M286.3 262.1h.9M287.9 259.1h.9M283.3 258.4h.9M289.7 260.1h.9M295.7 259.4h.9M295.3 261.0h.9M283.5 261.8h.9M297.0 260.9h.9M293.8 259.8h.9M288.1 259.3h.9M294.9 261.1h.9M288.8 259.9h.9M292.8 261.1h.9M285.8 263.6h.9M291.3 260.5h.9M289.6 261.5h.9M284.7 259.3h.9M278.7 262.7h.9M280.5 261.7h.9M285.8 258.7h.9M289.0 261.0h.9M293.1 263.7h.9M291.8 262.1h.9M287.0 261.8h.9M290.8 259.7h.9M289.5 260.4h.9M291.0 261.2h.9M287.5 259.2h.9M286.9 263.3h.9M276.5 259.3h.9M297.2 263.3h.9M294.6 260.1h.9M291.8 258.9h.9M294.0 258.5h.9M288.6 262.3h.9M284.4 259.8h.9M290.8 258.1h.9M295.8 261.1h.9M282.4 260.4h.9M286.1 259.3h.9M290.4 259.2h.9" stroke="#666" stroke-opacity="0.20" stroke-width="0.9" fill="none"/>
<path d="M234.80 257.00H298.80V311.30" stroke="#cfcfcf" stroke-width="0.9" fill="none"/>
<path d="M234.80 257.00V311.30H298.80" stroke="#8e8e8e" stroke-width="0.9" fill="none"/>
<line x1="234.80" y1="266.80" x2="298.80" y2="266.80" stroke="#777" stroke-width="0.9"/>
<line x1="282.50" y1="257.00" x2="282.50" y2="311.30" stroke="#777" stroke-width="0.9"/>
<text x="232.80" y="264.17" font-size="3.4" stroke="#666" stroke-width="0.15" text-anchor="end" fill="#666" transform="rotate(-60 232.80 264.17)">10</text>
<text x="232.80" y="278.29" font-size="3.4" stroke="#666" stroke-width="0.15" text-anchor="end" fill="#666" transform="rotate(-60 232.80 278.29)">10</text>
<text x="232.80" y="291.87" font-size="3.4" stroke="#666" stroke-width="0.15" text-anchor="end" fill="#666" transform="rotate(-60 232.80 291.87)">10</text>
<text x="232.80" y="304.90" font-size="3.4" stroke="#666" stroke-width="0.15" text-anchor="end" fill="#666" transform="rotate(-60 232.80 304.90)">10</text>
<text x="245.40" y="315.10" font-size="3.4" stroke="#666" stroke-width="0.15" text-anchor="end" fill="#666" transform="rotate(-60 245.40 315.10)">10</text>
<text x="262.04" y="315.10" font-size="3.4" stroke="#666" stroke-width="0.15" text-anchor="end" fill="#666" transform="rotate(-60 262.04 315.10)">10</text>
<text x="278.04" y="315.10" font-size="3.4" stroke="#666" stroke-width="0.15" text-anchor="end" fill="#666" transform="rotate(-60 278.04 315.10)">10</text>
<text x="294.04" y="315.10" font-size="3.4" stroke="#666" stroke-width="0.15" text-anchor="end" fill="#666" transform="rotate(-60 294.04 315.10)">10</text>
<text x="239.80" y="262.00" font-size="2.8" text-anchor="middle" fill="#999">Q1</text>
<text x="293.80" y="262.00" font-size="2.8" text-anchor="middle" fill="#999">Q1</text>
<text x="239.80" y="308.80" font-size="2.8" text-anchor="middle" fill="#999">Q1</text>
<text x="293.80" y="308.80" font-size="2.8" text-anchor="middle" fill="#999">Q1</text>
<ellipse cx="40.0" cy="360.7" rx="6.0" ry="4.5" fill="#555" fill-opacity="0.6" filter="url(#b2)" transform="rotate(-35 40.0 360.7)"/>
<path d="M42.2 356.3h.9M43.5 358.0h.9M42.1 357.0h.9M36.0 358.9h.9M43.9 361.7h.9M50.3 358.7h.9M40.5 359.5h.9M41.4 359.6h.9M47.2 359.5h.9M35.6 361.0h.9M45.6 358.0h.9M41.4 364.5h.9M38.0 360.9h.9M34.6 356.6h.9M40.9 355.2h.9M36.5 360.2h.9M42.6 358.6h.9M36.9 356.1h.9M36.9 356.9h.9M41.8 360.9h.9M43.8 366.3h.9M43.1 360.9h.9M40.2 359.8h.9M45.6 361.2h.9M37.2 366.9h.9M43.7 362.0h.9M39.4 356.1h.9M39.1 368.7h.9M38.2 356.2h.9M40.6 358.8h.9M28.9 359.3h.9M34.6 365.6h.9M39.4 360.2h.9M42.2 361.6h.9M31.7 365.3h.9M34.6 359.5h.9M37.8 361.8h.9M36.3 357.5h.9M42.0 367.4h.9M32.9 358.9h.9M42.1 361.6h.9M39.6 356.5h.9M42.2 356.0h.9M34.7 362.0h.9M41.0 362.9h.9M42.3 359.0h.9M43.6 358.5h.9M40.6 354.6h.9M35.7 366.9h.9M34.3 363.5h.9M38.7 359.6h.9M41.0 365.6h.9M32.3 369.6h.9M48.5 354.8h.9M41.3 362.7h.9M44.5 352.8h.9M40.0 360.0h.9M42.4 359.7h.9M41.6 357.9h.9M38.9 358.8h.9M37.3 362.0h.9M37.3 357.9h.9M45.5 356.3h.9M37.0 367.2h.9M38.2 364.0h.9M40.4 361.4h.9M39.5 358.7h.9M44.0 366.1h.9M31.9 366.7h.9M39.6 356.7h.9M39.0 370.1h.9M42.6 367.3h.9M42.1 359.5h.9M43.0 361.2h.9M45.2 358.8h.9M40.9 360.8h.9M46.5 359.4h.9M35.1 361.6h.9M40.0 358.2h.9M36.8 359.1h.9M39.8 362.5h.9M43.7 358.2h.9M47.5 355.1h.9M53.7 355.2h.9M40.9 358.1h.9M29.3 367.6h.9M44.3 365.4h.9M38.5 369.4h.9M40.4 363.3h.9M30.9 367.6h.9M40.0 363.4h.9M38.2 357.4h.9M44.8 360.1h.9M44.1 361.9h.9M44.0 357.8h.9M32.4 360.5h.9M46.3 359.1h.9M39.6 359.3h.9M40.2 360.7h.9M37.4 359.7h.9M48.4 355.7h.9M35.3 358.7h.9M38.7 364.5h.9M42.4 358.2h.9M39.6 359.7h.9M38.4 367.1h.9M46.1 366.4h.9M37.0 362.3h.9M42.8 357.8h.9M33.1 361.7h.9M41.0 361.4h.9M41.6 363.7h.9M44.3 359.0h.9M39.6 359.9h.9M43.8 361.8h.9M41.1 361.8h.9M36.1 357.7h.9M37.8 365.4h.9M44.7 363.8h.9M41.8 362.9h.9M46.8 360.0h.9M37.4 361.8h.9M38.6 357.7h.9M43.7 362.2h.9M42.0 367.3h.9M38.5 360.9h.9M37.8 359.4h.9M41.6 359.7h.9M47.3 358.1h.9M41.6 358.7h.9M34.6 364.1h.9M38.7 365.5h.9M43.0 365.3h.9M44.3 361.1h.9M41.2 360.7h.9M44.2 361.5h.9M38.3 363.9h.9M49.5 353.7h.9M37.7 359.5h.9M36.9 367.7h.9M40.8 361.4h.9M51.5 362.7h.9M38.7 365.8h.9M43.1 360.2h.9M41.7 359.4h.9M47.0 358.3h.9M43.6 363.2h.9M44.2 359.6h.9M44.5 364.6h.9M41.7 359.1h.9M36.2 362.0h.9M36.4 363.7h.9M37.1 354.5h.9M41.3 362.4h.9M38.8 357.7h.9M43.4 355.5h.9M33.4 360.9h.9M41.8 363.4h.9M44.7 358.3h.9M34.4 362.0h.9M36.4 362.5h.9M33.7 365.6h.9M42.1 358.6h.9M39.9 357.0h.9M33.4 362.7h.9M46.2 360.5h.9M40.6 365.1h.9M41.7 365.6h.9M40.9 358.2h.9M41.5 356.6h.9M33.8 359.2h.9M40.9 359.9h.9M38.9 359.8h.9M44.5 355.8h.9M39.7 365.9h.9M45.9 357.9h.9M32.5 363.6h.9M42.3 359.2h.9M43.1 353.0h.9M41.3 357.3h.9" stroke="#333" stroke-opacity="0.17" stroke-width="0.9" fill="none"/>
<path d="M52.8 348.1h.9M48.0 346.9h.9M27.2 360.1h.9M33.7 355.4h.9M58.2 356.5h.9M40.4 349.7h.9M39.0 354.1h.9M55.6 349.3h.9M45.0 351.7h.9M24.1 365.8h.9M36.1 366.2h.9M40.1 352.1h.9M47.1 367.9h.9M31.5 358.2h.9M38.1 354.7h.9M42.1 362.6h.9M48.3 336.3h.9M43.0 357.3h.9M41.5 356.5h.9M44.9 364.6h.9M38.9 359.3h.9M43.5 357.6h.9M46.2 363.5h.9M43.7 358.0h.9M38.1 352.0h.9M31.9 356.7h.9M41.3 351.9h.9M35.9 365.1h.9M39.1 344.2h.9M56.1 346.3h.9M47.0 363.4h.9M40.8 353.3h.9M55.0 337.1h.9M46.1 362.2h.9M34.3 363.3h.9M56.8 367.4h.9M35.9 362.5h.9M48.4 353.2h.9M35.6 366.9h.9M45.8 358.7h.9M56.2 355.2h.9M47.5 356.0h.9M34.0 363.3h.9M42.9 353.4h.9M40.0 351.9h.9M64.4 358.7h.9M41.8 361.7h.9M46.9 365.3h.9M46.7 354.6h.9M41.9 359.1h.9M38.4 367.1h.9M39.9 364.5h.9M48.9 362.0h.9M47.5 362.6h.9M38.7 366.2h.9M42.2 359.5h.9M47.8 361.6h.9M29.0 371.7h.9" stroke="#888" stroke-opacity="0.17" stroke-width="0.9" fill="none"/>
<path d="M68.0 326.3h.9M70.3 323.2h.9M74.8 319.4h.9M76.0 324.3h.9M76.9 324.9h.9M75.8 323.0h.9M75.7 323.7h.9" stroke="#999" stroke-opacity="0.17" stroke-width="0.9" fill="none"/>
<path d="M22.50 318.20H88.50V374.50" stroke="#cfcfcf" stroke-width="0.9" fill="none"/>
<path d="M22.50 318.20V374.50H88.50" stroke="#8e8e8e" stroke-width="0.9" fill="none"/>
<line x1="22.50" y1="329.25" x2="88.50" y2="329.25" stroke="#777" stroke-width="0.9"/>
<line x1="72.50" y1="318.20" x2="72.50" y2="374.50" stroke="#777" stroke-width="0.9"/>
<text x="20.50" y="325.59" font-size="3.4" stroke="#666" stroke-width="0.15" text-anchor="end" fill="#666" transform="rotate(-60 20.50 325.59)">10</text>
<text x="20.50" y="340.23" font-size="3.4" stroke="#666" stroke-width="0.15" text-anchor="end" fill="#666" transform="rotate(-60 20.50 340.23)">10</text>
<text x="20.50" y="354.31" font-size="3.4" stroke="#666" stroke-width="0.15" text-anchor="end" fill="#666" transform="rotate(-60 20.50 354.31)">10</text>
<text x="20.50" y="367.82" font-size="3.4" stroke="#666" stroke-width="0.15" text-anchor="end" fill="#666" transform="rotate(-60 20.50 367.82)">10</text>
<text x="33.40" y="378.30" font-size="3.4" stroke="#666" stroke-width="0.15" text-anchor="end" fill="#666" transform="rotate(-60 33.40 378.30)">10</text>
<text x="50.56" y="378.30" font-size="3.4" stroke="#666" stroke-width="0.15" text-anchor="end" fill="#666" transform="rotate(-60 50.56 378.30)">10</text>
<text x="67.06" y="378.30" font-size="3.4" stroke="#666" stroke-width="0.15" text-anchor="end" fill="#666" transform="rotate(-60 67.06 378.30)">10</text>
<text x="83.56" y="378.30" font-size="3.4" stroke="#666" stroke-width="0.15" text-anchor="end" fill="#666" transform="rotate(-60 83.56 378.30)">10</text>
<text x="27.50" y="323.20" font-size="2.8" text-anchor="middle" fill="#999">Q1</text>
<text x="83.50" y="323.20" font-size="2.8" text-anchor="middle" fill="#999">Q1</text>
<text x="27.50" y="372.00" font-size="2.8" text-anchor="middle" fill="#999">Q1</text>
<text x="83.50" y="372.00" font-size="2.8" text-anchor="middle" fill="#999">Q1</text>
<ellipse cx="151.5" cy="323.0" rx="7.0" ry="2.8" fill="#888" fill-opacity="0.6" filter="url(#b1)" transform="rotate(0 151.5 323.0)"/>
<ellipse cx="156.0" cy="322.0" rx="2.5" ry="1.4" fill="#333" fill-opacity="0.6" filter="url(#b1)" transform="rotate(0 156.0 322.0)"/>
<ellipse cx="127.0" cy="347.0" rx="17.0" ry="5.5" fill="#ccc" fill-opacity="0.3" filter="url(#b3)" transform="rotate(-55 127.0 347.0)"/>
<path d="M126.3 342.0h.9M125.4 363.4h.9M110.8 361.4h.9M124.0 347.2h.9M134.1 343.6h.9M111.9 362.4h.9M139.1 345.4h.9M109.9 356.3h.9M144.5 336.7h.9M113.4 345.2h.9M141.9 323.8h.9M139.1 329.4h.9M120.9 351.4h.9M149.5 328.6h.9M112.2 368.2h.9M125.4 348.4h.9M120.4 353.5h.9M123.5 355.1h.9M116.8 358.7h.9M131.3 353.4h.9M130.6 340.8h.9M134.7 339.9h.9M141.1 331.7h.9M152.6 323.3h.9M124.7 346.3h.9M138.9 334.9h.9M119.3 343.8h.9M139.0 337.5h.9M117.6 370.3h.9M122.9 356.5h.9M127.9 338.0h.9M111.2 349.7h.9M108.9 355.6h.9M132.0 340.4h.9M138.6 333.9h.9M121.6 358.0h.9M125.5 355.0h.9M126.0 339.0h.9M127.3 347.1h.9M127.7 354.6h.9M113.0 345.4h.9M123.6 347.6h.9M130.1 335.5h.9M118.6 349.8h.9M128.5 330.3h.9M132.4 358.0h.9M129.7 347.7h.9M120.1 345.6h.9M128.5 348.8h.9M117.4 364.0h.9M145.4 331.0h.9M105.4 368.6h.9M136.8 339.7h.9M112.2 357.0h.9M128.3 346.1h.9M118.3 360.7h.9M135.1 337.7h.9M106.2 356.5h.9M124.9 351.5h.9M122.2 349.7h.9M122.7 360.0h.9M127.0 348.2h.9M113.6 360.2h.9M124.3 341.3h.9M111.8 365.6h.9M140.9 328.9h.9M142.3 323.9h.9M117.3 347.4h.9M127.2 360.5h.9M133.9 344.2h.9M134.6 336.0h.9M125.3 350.6h.9M136.4 338.0h.9M133.1 339.8h.9M117.4 358.2h.9M121.3 364.8h.9M114.6 364.6h.9M140.3 326.4h.9M134.1 337.8h.9M137.1 362.7h.9M125.4 344.2h.9M123.4 355.8h.9M134.9 343.1h.9M122.1 340.3h.9M131.4 337.7h.9M117.2 346.8h.9M117.5 353.6h.9M120.1 343.0h.9M128.1 346.6h.9M112.0 362.5h.9M121.7 363.2h.9M107.0 371.5h.9M133.4 331.8h.9M124.7 342.2h.9M152.3 319.7h.9M133.3 325.3h.9M119.9 367.5h.9M123.7 349.2h.9M125.0 337.8h.9M135.5 335.0h.9M129.2 337.4h.9M129.4 336.8h.9M142.5 335.7h.9M139.3 334.4h.9M121.7 328.6h.9M134.9 333.1h.9M126.8 344.6h.9M109.4 367.0h.9M140.6 341.2h.9M116.1 353.8h.9M138.8 321.6h.9M121.8 363.9h.9M142.7 321.8h.9M141.5 322.7h.9M146.5 339.2h.9M148.9 322.4h.9M122.1 349.1h.9M120.0 349.0h.9M112.5 343.2h.9M128.8 344.1h.9M124.3 356.3h.9M110.9 364.2h.9M128.2 334.1h.9M130.6 350.9h.9M134.1 340.5h.9M114.8 358.3h.9M132.2 348.4h.9M112.9 356.4h.9M135.3 326.3h.9M139.8 331.0h.9M144.5 338.8h.9M138.0 338.7h.9M113.9 359.1h.9M140.9 341.8h.9M152.6 332.6h.9M131.3 342.8h.9M138.1 331.4h.9M121.6 344.7h.9M133.0 328.2h.9M126.2 334.6h.9M134.3 326.7h.9M129.0 328.9h.9M127.5 357.6h.9M118.5 359.7h.9M111.4 347.2h.9M132.3 343.6h.9M117.5 366.1h.9M113.8 356.2h.9M124.0 344.7h.9M139.5 338.6h.9M97.6 372.3h.9M131.0 336.7h.9M136.3 344.6h.9M118.2 349.4h.9M118.3 362.4h.9M123.3 339.0h.9M150.7 323.6h.9M130.9 330.1h.9M120.1 351.6h.9M117.4 349.9h.9M132.8 341.0h.9M128.7 339.7h.9M141.9 327.5h.9M130.7 350.9h.9M122.6 350.9h.9M122.8 359.4h.9M119.4 352.1h.9M121.4 360.3h.9M113.6 350.0h.9M130.6 335.1h.9M132.6 342.6h.9M144.8 331.6h.9M120.0 355.4h.9M120.5 372.4h.9M138.1 344.5h.9M114.3 345.5h.9M144.1 323.5h.9M128.7 345.1h.9M136.4 338.6h.9M119.1 353.8h.9M150.0 323.0h.9M115.0 346.4h.9M131.2 346.2h.9M120.5 344.3h.9M112.7 355.3h.9M133.0 346.2h.9M134.9 328.7h.9M132.1 345.1h.9M120.8 354.5h.9M134.7 331.9h.9" stroke="#999" stroke-opacity="0.20" stroke-width="0.9" fill="none"/>
<path d="M136.3 321.6h.9M135.8 327.4h.9M150.7 327.4h.9M140.8 325.1h.9M131.8 324.7h.9M140.3 323.4h.9M142.5 323.0h.9M123.5 323.0h.9M124.3 322.3h.9M143.9 324.6h.9M137.5 327.3h.9M144.8 324.0h.9M145.3 325.8h.9M136.0 325.9h.9M126.0 323.4h.9M135.2 326.2h.9M133.4 324.7h.9M142.8 327.8h.9M141.4 327.5h.9M133.2 324.4h.9M138.2 324.4h.9M132.5 328.3h.9M134.6 323.1h.9M139.4 328.7h.9M136.6 327.5h.9M132.9 324.0h.9M131.2 324.7h.9M148.9 322.7h.9M147.5 323.0h.9M134.4 326.7h.9M140.4 325.6h.9M124.5 325.7h.9M128.8 330.1h.9M134.5 325.4h.9M128.0 324.0h.9" stroke="#999" stroke-opacity="0.20" stroke-width="0.9" fill="none"/>
<path d="M143.9 325.0h.9M149.6 324.1h.9M147.2 322.0h.9M158.1 321.1h.9M141.1 323.8h.9M144.7 322.1h.9M156.0 321.4h.9M155.8 321.6h.9M148.4 322.6h.9M146.4 323.4h.9M157.3 320.1h.9M156.0 320.4h.9M146.3 319.4h.9M152.3 321.6h.9M151.1 327.4h.9M148.9 323.0h.9M154.7 321.4h.9M151.1 324.9h.9M152.1 323.7h.9M149.1 323.6h.9M151.3 325.9h.9M155.0 322.5h.9M137.5 324.4h.9M155.2 321.2h.9M140.0 320.7h.9M156.1 320.9h.9M148.5 323.4h.9M157.7 323.0h.9M150.4 321.9h.9M150.5 320.2h.9M146.7 324.2h.9M147.0 324.8h.9M153.0 323.6h.9M154.6 324.0h.9M146.3 322.3h.9M148.4 325.1h.9M150.1 321.4h.9M143.7 324.1h.9M156.6 325.8h.9M151.3 325.1h.9M145.3 323.3h.9M147.3 323.3h.9M155.1 325.1h.9M145.6 325.5h.9M148.4 320.9h.9M150.1 320.1h.9M151.0 323.6h.9M149.9 324.1h.9M149.3 323.0h.9M143.1 323.1h.9M146.3 322.1h.9M150.5 323.4h.9M141.9 319.9h.9M149.3 323.9h.9M153.0 324.8h.9M158.2 324.0h.9M150.9 320.9h.9M145.8 322.1h.9M152.5 323.4h.9M151.0 322.7h.9M154.5 323.4h.9M152.6 323.6h.9M148.0 320.9h.9M153.7 323.8h.9M149.8 322.2h.9M149.8 323.5h.9M144.7 323.2h.9M154.5 324.2h.9M151.6 324.9h.9M150.1 322.2h.9M151.6 324.8h.9M152.8 324.3h.9M139.9 325.4h.9M149.3 321.3h.9M152.5 321.0h.9M155.0 321.9h.9M156.3 325.7h.9M139.8 323.6h.9M147.2 320.2h.9M147.6 322.6h.9M156.7 320.0h.9M156.8 327.0h.9M154.3 324.1h.9M150.9 320.6h.9M153.9 323.8h.9M155.0 328.1h.9M155.0 323.9h.9M144.7 322.2h.9M147.4 324.4h.9M149.3 326.5h.9M148.9 324.2h.9M155.5 320.9h.9M152.9 324.4h.9M152.2 326.1h.9M157.7 321.3h.9M151.7 321.3h.9M154.2 321.3h.9M156.1 323.8h.9M156.3 322.7h.9M143.0 326.5h.9M150.1 325.8h.9M153.4 324.3h.9M155.8 322.5h.9M150.3 323.0h.9M152.9 326.3h.9M140.8 323.1h.9M147.1 325.3h.9M148.7 323.9h.9" stroke="#666" stroke-opacity="0.20" stroke-width="0.9" fill="none"/>
<path d="M94.50 318.20H160.20V374.30" stroke="#cfcfcf" stroke-width="0.9" fill="none"/>
<path d="M94.50 318.20V374.30H160.20" stroke="#8e8e8e" stroke-width="0.9" fill="none"/>
<line x1="94.50" y1="329.25" x2="160.20" y2="329.25" stroke="#777" stroke-width="0.9"/>
<line x1="143.75" y1="318.20" x2="143.75" y2="374.30" stroke="#777" stroke-width="0.9"/>
<text x="92.50" y="325.57" font-size="3.4" stroke="#666" stroke-width="0.15" text-anchor="end" fill="#666" transform="rotate(-60 92.50 325.57)">10</text>
<text x="92.50" y="340.16" font-size="3.4" stroke="#666" stroke-width="0.15" text-anchor="end" fill="#666" transform="rotate(-60 92.50 340.16)">10</text>
<text x="92.50" y="354.18" font-size="3.4" stroke="#666" stroke-width="0.15" text-anchor="end" fill="#666" transform="rotate(-60 92.50 354.18)">10</text>
<text x="92.50" y="367.65" font-size="3.4" stroke="#666" stroke-width="0.15" text-anchor="end" fill="#666" transform="rotate(-60 92.50 367.65)">10</text>
<text x="105.36" y="378.10" font-size="3.4" stroke="#666" stroke-width="0.15" text-anchor="end" fill="#666" transform="rotate(-60 105.36 378.10)">10</text>
<text x="122.44" y="378.10" font-size="3.4" stroke="#666" stroke-width="0.15" text-anchor="end" fill="#666" transform="rotate(-60 122.44 378.10)">10</text>
<text x="138.86" y="378.10" font-size="3.4" stroke="#666" stroke-width="0.15" text-anchor="end" fill="#666" transform="rotate(-60 138.86 378.10)">10</text>
<text x="155.29" y="378.10" font-size="3.4" stroke="#666" stroke-width="0.15" text-anchor="end" fill="#666" transform="rotate(-60 155.29 378.10)">10</text>
<text x="99.50" y="323.20" font-size="2.8" text-anchor="middle" fill="#999">Q1</text>
<text x="155.20" y="323.20" font-size="2.8" text-anchor="middle" fill="#999">Q1</text>
<text x="99.50" y="371.80" font-size="2.8" text-anchor="middle" fill="#999">Q1</text>
<text x="155.20" y="371.80" font-size="2.8" text-anchor="middle" fill="#999">Q1</text>
<ellipse cx="222.0" cy="323.0" rx="7.0" ry="2.9" fill="#777" fill-opacity="0.65" filter="url(#b1)" transform="rotate(0 222.0 323.0)"/>
<ellipse cx="227.0" cy="322.0" rx="2.8" ry="1.5" fill="#222" fill-opacity="0.6" filter="url(#b1)" transform="rotate(0 227.0 322.0)"/>
<ellipse cx="194.0" cy="349.0" rx="19.0" ry="6.0" fill="#ccc" fill-opacity="0.3" filter="url(#b3)" transform="rotate(-45 194.0 349.0)"/>
<path d="M190.9 357.7h.9M207.4 332.2h.9M188.7 342.2h.9M202.2 348.1h.9M190.5 362.0h.9M171.3 367.6h.9M193.9 348.4h.9M196.1 353.1h.9M181.6 350.6h.9M217.7 329.4h.9M181.7 361.3h.9M212.0 341.3h.9M183.9 365.6h.9M202.4 349.9h.9M213.2 326.9h.9M174.2 372.2h.9M223.3 325.5h.9M207.6 355.8h.9M182.4 368.3h.9M185.7 357.7h.9M201.8 354.1h.9M177.8 360.6h.9M189.0 357.6h.9M176.5 363.4h.9M208.7 332.8h.9M205.5 342.0h.9M182.1 347.6h.9M209.4 335.1h.9M200.1 325.9h.9M185.4 366.4h.9M202.3 340.5h.9M199.2 350.3h.9M191.2 355.2h.9M186.8 337.6h.9M194.1 360.5h.9M187.5 354.3h.9M182.9 356.0h.9M209.6 331.2h.9M177.2 349.2h.9M196.4 330.3h.9M208.6 338.3h.9M185.5 363.8h.9M167.9 365.7h.9M201.4 330.3h.9M172.9 362.1h.9M195.5 344.7h.9M203.8 333.2h.9M172.7 366.0h.9M190.6 344.5h.9M205.8 352.6h.9M185.4 357.9h.9M211.2 326.3h.9M176.6 357.1h.9M201.8 345.4h.9M191.7 351.5h.9M216.3 333.9h.9M172.8 370.0h.9M198.2 350.7h.9M187.5 349.8h.9M179.2 348.5h.9M190.6 347.1h.9M196.0 338.0h.9M182.8 351.6h.9M180.5 368.1h.9M188.3 358.1h.9M177.1 366.4h.9M188.3 359.3h.9M195.2 346.0h.9M206.5 337.8h.9M204.4 344.7h.9M191.0 349.2h.9M196.3 342.8h.9M203.6 348.4h.9M204.2 335.2h.9M173.8 368.3h.9M196.0 356.0h.9M186.6 354.3h.9M202.0 336.6h.9M198.0 359.1h.9M217.9 330.1h.9M193.0 341.4h.9M201.6 341.5h.9M194.2 344.0h.9M192.1 348.9h.9M203.8 350.9h.9M191.4 337.1h.9M172.0 357.2h.9M183.7 363.6h.9M196.5 341.0h.9M193.8 342.4h.9M186.4 368.3h.9M212.0 329.1h.9M189.7 347.7h.9M195.5 352.7h.9M197.4 353.6h.9M212.1 333.4h.9M197.6 344.4h.9M193.4 339.7h.9M199.9 344.4h.9M189.3 371.4h.9M174.9 360.3h.9M188.9 337.2h.9M174.8 354.8h.9M178.1 363.3h.9M202.4 349.5h.9M209.9 342.6h.9M199.7 338.9h.9M207.4 331.0h.9M190.3 365.2h.9M205.6 338.8h.9M207.8 342.1h.9M172.4 369.4h.9M176.0 367.6h.9M188.8 365.3h.9M197.2 338.5h.9M187.5 344.7h.9M195.9 351.3h.9M188.7 337.5h.9M190.1 356.7h.9M202.4 350.0h.9M176.1 370.9h.9M184.1 360.1h.9M201.8 346.5h.9M185.1 358.9h.9M169.6 361.0h.9M200.9 341.1h.9M199.8 355.9h.9M211.8 337.5h.9M201.6 344.2h.9M198.1 342.5h.9M225.2 329.8h.9M187.3 346.9h.9M218.7 340.0h.9M180.1 364.9h.9M189.9 357.0h.9M205.9 353.1h.9M201.6 340.8h.9M208.4 331.8h.9M197.0 364.5h.9M178.6 359.7h.9M189.1 344.5h.9M178.9 359.0h.9M183.2 351.0h.9M177.6 366.3h.9M197.6 332.1h.9M187.5 345.0h.9M203.4 337.2h.9M193.1 348.7h.9M177.8 351.8h.9M195.6 335.2h.9M174.1 365.9h.9M183.5 361.2h.9M208.9 335.7h.9M195.9 346.8h.9M197.8 329.1h.9M194.4 340.2h.9M174.6 368.0h.9M189.6 357.9h.9M199.4 323.4h.9M200.1 359.0h.9M211.9 342.9h.9M188.3 342.0h.9M179.2 369.3h.9M204.0 332.3h.9M190.0 354.7h.9M226.2 334.9h.9M199.0 359.0h.9M181.6 354.0h.9M197.3 365.1h.9M198.6 345.5h.9M186.8 354.3h.9M205.0 332.4h.9M195.9 349.9h.9M207.7 335.8h.9M217.5 323.0h.9M181.9 356.6h.9M209.0 335.8h.9M182.3 363.2h.9M203.7 344.8h.9M185.3 365.0h.9M218.9 320.0h.9M197.4 332.0h.9M194.5 349.8h.9M183.1 357.0h.9M212.3 344.8h.9M182.8 345.8h.9M214.5 333.2h.9M203.9 340.2h.9M192.8 334.0h.9M181.5 355.2h.9M194.1 351.5h.9M189.2 368.0h.9M175.3 363.5h.9M191.3 340.7h.9M204.2 343.8h.9M196.8 362.0h.9M195.4 349.5h.9M171.6 356.7h.9M182.3 357.6h.9M189.5 359.6h.9M182.4 355.8h.9M180.5 369.7h.9M187.9 356.6h.9M201.2 346.0h.9M210.6 330.3h.9M193.6 355.1h.9M198.4 342.1h.9M191.6 346.7h.9M207.7 342.9h.9M201.1 357.4h.9M169.2 371.4h.9M216.7 322.3h.9M196.1 336.3h.9M200.3 333.6h.9M172.5 368.8h.9M181.3 352.0h.9M183.4 350.7h.9M193.9 348.5h.9M202.2 336.5h.9M167.7 363.7h.9M196.0 359.7h.9M203.0 334.1h.9" stroke="#999" stroke-opacity="0.20" stroke-width="0.9" fill="none"/>
<path d="M211.3 322.6h.9M211.8 324.1h.9M210.1 326.2h.9M202.7 325.6h.9M197.2 324.8h.9M212.3 333.1h.9M209.6 325.1h.9M197.6 327.0h.9M193.0 323.3h.9M207.2 322.5h.9M215.5 327.1h.9M200.7 323.8h.9M195.4 322.1h.9M207.8 326.2h.9M207.1 325.4h.9M200.7 325.6h.9M194.3 324.9h.9M215.0 327.6h.9M201.4 324.2h.9M214.4 328.5h.9M194.2 324.1h.9M206.3 327.4h.9M198.8 326.2h.9M202.6 329.7h.9M207.7 324.6h.9M202.3 327.0h.9M209.5 322.7h.9M206.2 322.2h.9M199.4 322.3h.9M195.4 323.5h.9M197.8 326.0h.9M210.3 324.4h.9M196.8 326.5h.9M190.5 321.0h.9M209.8 326.2h.9M211.5 324.5h.9M195.8 323.9h.9M208.7 323.4h.9M199.8 322.1h.9M196.5 326.6h.9" stroke="#999" stroke-opacity="0.20" stroke-width="0.9" fill="none"/>
<path d="M224.3 320.6h.9M215.8 321.8h.9M224.8 320.6h.9M214.8 323.8h.9M226.7 320.6h.9M217.5 324.5h.9M219.6 321.8h.9M224.6 323.3h.9M227.9 324.5h.9M218.6 322.7h.9M221.4 320.2h.9M216.4 324.9h.9M213.0 324.9h.9M223.3 322.6h.9M224.7 323.9h.9M228.4 322.1h.9M220.5 322.4h.9M216.7 322.2h.9M217.9 322.9h.9M223.0 327.5h.9M211.7 325.0h.9M224.2 321.5h.9M221.0 321.9h.9M222.1 324.9h.9M213.4 325.6h.9M219.7 325.9h.9M224.1 325.4h.9M224.9 325.1h.9M222.1 321.3h.9M225.5 324.4h.9M220.7 325.1h.9M214.9 322.5h.9M217.0 325.8h.9M228.3 324.5h.9M223.9 323.4h.9M217.0 321.9h.9M225.9 323.2h.9M208.6 322.3h.9M223.4 323.7h.9M222.2 321.3h.9M225.8 322.4h.9M215.3 325.8h.9M208.0 321.2h.9M224.2 322.2h.9M226.0 322.7h.9M219.4 327.3h.9M220.7 322.6h.9M215.9 321.5h.9M225.4 324.1h.9M221.9 321.6h.9M225.7 319.5h.9M220.0 322.5h.9M217.2 323.3h.9M218.2 321.4h.9M227.2 324.5h.9M220.7 323.5h.9M214.3 323.0h.9M225.4 321.8h.9M228.2 325.6h.9M219.7 325.8h.9M216.6 325.9h.9M221.1 322.2h.9M222.6 321.9h.9M227.9 324.6h.9M217.6 322.7h.9M226.8 322.2h.9M218.8 325.3h.9M226.1 322.9h.9M220.7 323.9h.9M226.6 324.5h.9M220.3 323.9h.9M226.6 324.5h.9M205.0 321.2h.9M217.7 322.5h.9M223.0 324.8h.9M225.4 322.7h.9M222.1 326.5h.9M218.6 323.6h.9M210.8 323.7h.9M219.9 322.8h.9M227.8 323.9h.9M220.5 324.8h.9M224.4 323.2h.9M223.7 323.5h.9M220.1 322.1h.9M222.1 321.1h.9M215.1 325.6h.9M220.7 323.0h.9M221.3 323.0h.9M222.1 323.1h.9M217.6 324.9h.9M218.2 325.1h.9M211.4 320.9h.9M227.5 322.7h.9M218.3 323.8h.9M216.2 323.2h.9M209.8 322.1h.9M218.4 324.1h.9M226.8 321.3h.9M218.4 321.5h.9M216.0 325.7h.9M221.5 326.6h.9M226.6 322.3h.9M220.7 326.1h.9M220.6 325.3h.9M222.0 321.5h.9M224.8 321.8h.9M222.3 324.2h.9M225.1 322.4h.9M226.9 322.5h.9M225.4 321.1h.9" stroke="#555" stroke-opacity="0.20" stroke-width="0.9" fill="none"/>
<path d="M165.50 318.20H230.00V374.30" stroke="#cfcfcf" stroke-width="0.9" fill="none"/>
<path d="M165.50 318.20V374.30H230.00" stroke="#8e8e8e" stroke-width="0.9" fill="none"/>
<line x1="165.50" y1="329.00" x2="230.00" y2="329.00" stroke="#777" stroke-width="0.9"/>
<line x1="214.00" y1="318.20" x2="214.00" y2="374.30" stroke="#777" stroke-width="0.9"/>
<text x="163.50" y="325.57" font-size="3.4" stroke="#666" stroke-width="0.15" text-anchor="end" fill="#666" transform="rotate(-60 163.50 325.57)">10</text>
<text x="163.50" y="340.16" font-size="3.4" stroke="#666" stroke-width="0.15" text-anchor="end" fill="#666" transform="rotate(-60 163.50 340.16)">10</text>
<text x="163.50" y="354.18" font-size="3.4" stroke="#666" stroke-width="0.15" text-anchor="end" fill="#666" transform="rotate(-60 163.50 354.18)">10</text>
<text x="163.50" y="367.65" font-size="3.4" stroke="#666" stroke-width="0.15" text-anchor="end" fill="#666" transform="rotate(-60 163.50 367.65)">10</text>
<text x="176.18" y="378.10" font-size="3.4" stroke="#666" stroke-width="0.15" text-anchor="end" fill="#666" transform="rotate(-60 176.18 378.10)">10</text>
<text x="192.94" y="378.10" font-size="3.4" stroke="#666" stroke-width="0.15" text-anchor="end" fill="#666" transform="rotate(-60 192.94 378.10)">10</text>
<text x="209.07" y="378.10" font-size="3.4" stroke="#666" stroke-width="0.15" text-anchor="end" fill="#666" transform="rotate(-60 209.07 378.10)">10</text>
<text x="225.19" y="378.10" font-size="3.4" stroke="#666" stroke-width="0.15" text-anchor="end" fill="#666" transform="rotate(-60 225.19 378.10)">10</text>
<text x="170.50" y="323.20" font-size="2.8" text-anchor="middle" fill="#999">Q1</text>
<text x="225.00" y="323.20" font-size="2.8" text-anchor="middle" fill="#999">Q1</text>
<text x="170.50" y="371.80" font-size="2.8" text-anchor="middle" fill="#999">Q1</text>
<text x="225.00" y="371.80" font-size="2.8" text-anchor="middle" fill="#999">Q1</text>
<ellipse cx="292.0" cy="322.5" rx="6.5" ry="2.7" fill="#888" fill-opacity="0.6" filter="url(#b1)" transform="rotate(0 292.0 322.5)"/>
<ellipse cx="297.0" cy="321.6" rx="2.6" ry="1.4" fill="#333" fill-opacity="0.6" filter="url(#b1)" transform="rotate(0 297.0 321.6)"/>
<ellipse cx="268.0" cy="347.0" rx="17.0" ry="5.5" fill="#ddd" fill-opacity="0.3" filter="url(#b3)" transform="rotate(-60 268.0 347.0)"/>
<path d="M271.0 346.5h.9M258.5 358.8h.9M266.4 357.7h.9M263.3 360.0h.9M284.2 322.8h.9M276.6 329.0h.9M281.6 330.4h.9M270.9 339.3h.9M262.0 354.6h.9M271.2 347.3h.9M270.7 339.1h.9M270.6 346.9h.9M249.1 371.5h.9M259.6 359.4h.9M264.3 350.7h.9M263.1 363.0h.9M263.0 337.7h.9M263.0 343.5h.9M264.9 353.5h.9M266.0 349.9h.9M284.0 321.9h.9M281.5 336.1h.9M267.0 367.5h.9M279.3 338.1h.9M263.9 363.2h.9M269.6 338.5h.9M266.9 351.2h.9M282.3 334.9h.9M279.6 340.5h.9M276.4 319.2h.9M259.2 352.1h.9M276.1 349.1h.9M269.5 333.1h.9M270.4 354.4h.9M262.8 355.2h.9M262.5 336.7h.9M277.3 334.8h.9M269.0 334.7h.9M258.1 357.7h.9M271.0 342.8h.9M278.0 349.5h.9M277.3 323.3h.9M270.2 362.2h.9M271.8 355.7h.9M266.1 351.4h.9M255.4 358.2h.9M268.5 355.7h.9M263.0 353.5h.9M257.4 350.6h.9M264.7 359.0h.9M257.9 371.4h.9M276.1 323.8h.9M265.0 340.2h.9M273.5 338.6h.9M276.8 346.9h.9M279.2 342.7h.9M268.6 333.0h.9M273.1 343.8h.9M270.7 346.6h.9M260.1 361.7h.9M269.6 340.9h.9M258.9 339.6h.9M275.9 321.3h.9M262.9 362.0h.9M260.9 362.6h.9M269.7 368.6h.9M282.8 343.2h.9M261.8 365.3h.9M261.9 364.1h.9M267.1 331.2h.9M251.9 362.3h.9M250.5 369.5h.9M252.2 358.6h.9M271.7 346.7h.9M253.1 366.9h.9M267.2 346.0h.9M265.4 360.6h.9M279.5 334.8h.9M275.7 355.7h.9M272.7 352.1h.9M262.5 361.1h.9M265.2 344.2h.9M258.5 346.3h.9M253.5 350.3h.9M281.2 327.5h.9M283.7 333.9h.9M282.1 332.7h.9M261.5 363.1h.9M257.4 352.5h.9M259.3 366.9h.9M271.6 325.8h.9M291.7 322.2h.9M262.2 351.9h.9M272.0 350.8h.9M259.1 350.2h.9M261.5 335.6h.9M274.9 347.8h.9M274.6 344.1h.9M276.2 340.9h.9M265.4 342.3h.9M265.5 350.5h.9M287.7 330.8h.9M268.4 338.0h.9M260.2 358.5h.9M282.8 325.1h.9M263.8 345.8h.9M277.8 333.3h.9M268.0 348.1h.9M290.0 322.6h.9M272.7 348.6h.9M262.9 346.8h.9M261.1 348.9h.9M272.9 338.6h.9M277.3 339.9h.9M260.2 361.7h.9M272.8 319.8h.9M269.4 343.6h.9M265.9 345.0h.9M276.4 367.7h.9M255.7 348.5h.9M257.4 361.3h.9M264.0 353.1h.9M260.6 365.7h.9M256.9 351.2h.9M258.4 359.4h.9M278.4 334.4h.9M264.9 352.6h.9M279.8 349.1h.9M264.4 358.4h.9M270.4 332.4h.9M270.6 344.3h.9M266.2 356.3h.9M283.2 333.2h.9M267.1 350.7h.9M274.3 345.8h.9M272.6 346.3h.9M273.2 346.2h.9M279.1 325.3h.9M269.6 343.6h.9M264.1 353.6h.9M260.8 367.7h.9M292.3 323.7h.9M275.5 323.4h.9M279.0 320.0h.9M276.3 353.0h.9M261.8 367.0h.9M269.9 342.0h.9M261.7 362.6h.9M268.6 357.5h.9M273.1 323.1h.9M261.7 354.4h.9M251.4 363.4h.9M267.9 345.0h.9M267.2 335.1h.9M266.8 366.6h.9M272.8 320.9h.9M257.0 370.3h.9M255.5 365.9h.9M266.4 356.0h.9M261.2 370.0h.9M258.4 344.8h.9M276.1 340.8h.9M264.1 350.1h.9M277.9 343.1h.9M272.0 346.0h.9M265.7 346.7h.9M260.5 362.8h.9M264.0 351.3h.9M279.2 333.0h.9M268.8 328.3h.9M270.5 336.2h.9M256.3 358.0h.9M283.5 329.3h.9M255.8 355.7h.9M265.9 345.5h.9M268.7 347.2h.9M285.0 340.3h.9M262.2 351.1h.9M274.9 332.2h.9M279.4 327.7h.9M284.0 323.0h.9" stroke="#999" stroke-opacity="0.20" stroke-width="0.9" fill="none"/>
<path d="M286.7 321.3h.9M284.3 319.2h.9M293.3 324.2h.9M290.8 320.4h.9M296.9 323.2h.9M289.0 323.8h.9M295.7 322.8h.9M290.0 321.7h.9M288.7 324.2h.9M286.0 321.1h.9M283.0 326.0h.9M297.3 323.4h.9M293.1 321.7h.9M290.0 323.7h.9M288.4 324.8h.9M289.5 320.8h.9M298.5 322.2h.9M294.8 321.7h.9M280.7 323.5h.9M285.3 324.6h.9M293.5 323.3h.9M292.5 320.2h.9M296.4 319.7h.9M289.7 321.0h.9M290.1 324.1h.9M288.8 323.6h.9M295.5 319.2h.9M286.2 321.8h.9M289.0 323.1h.9M282.3 323.9h.9M295.7 322.2h.9M285.1 322.5h.9M289.3 323.6h.9M291.6 323.9h.9M289.8 325.2h.9M280.5 320.6h.9M294.5 319.6h.9M295.7 320.2h.9M292.5 320.8h.9M289.8 322.8h.9M291.5 321.8h.9M287.2 324.3h.9M296.1 324.8h.9M297.3 324.7h.9M292.0 323.0h.9M277.0 321.4h.9M289.3 323.0h.9M294.9 325.6h.9M283.2 322.6h.9M296.3 320.0h.9M291.8 326.1h.9M298.6 323.5h.9M278.9 322.3h.9M293.9 321.9h.9M291.7 328.4h.9M290.9 320.7h.9M293.2 321.9h.9M290.5 322.3h.9M295.9 323.0h.9M286.0 322.2h.9M294.4 321.6h.9M297.7 324.0h.9M287.0 323.1h.9M291.7 324.2h.9M288.6 319.7h.9M294.8 323.0h.9M294.6 322.5h.9M293.6 321.5h.9M294.4 324.1h.9M291.7 324.0h.9M283.1 321.0h.9M293.3 322.3h.9M285.7 323.2h.9M295.9 319.7h.9M294.8 323.4h.9M294.2 320.4h.9M294.7 319.7h.9M286.2 325.1h.9M297.8 321.3h.9M293.6 324.7h.9M280.6 324.4h.9M291.7 322.5h.9M286.6 323.1h.9M286.5 320.7h.9M289.8 320.2h.9M288.2 321.9h.9M292.0 324.0h.9M296.1 321.9h.9M290.1 322.6h.9M296.1 323.8h.9M293.3 323.1h.9M289.4 320.6h.9M290.3 322.1h.9M288.9 319.7h.9M290.4 323.6h.9M289.5 322.5h.9M281.6 322.1h.9M291.4 320.2h.9M283.4 323.3h.9M288.0 323.4h.9M289.9 323.7h.9M290.3 319.6h.9M291.6 321.9h.9M295.3 321.6h.9M290.0 324.1h.9" stroke="#555" stroke-opacity="0.20" stroke-width="0.9" fill="none"/>
<path d="M235.20 318.00H300.10V373.50" stroke="#cfcfcf" stroke-width="0.9" fill="none"/>
<path d="M235.20 318.00V373.50H300.10" stroke="#8e8e8e" stroke-width="0.9" fill="none"/>
<line x1="235.20" y1="328.75" x2="300.10" y2="328.75" stroke="#777" stroke-width="0.9"/>
<line x1="284.50" y1="318.00" x2="284.50" y2="373.50" stroke="#777" stroke-width="0.9"/>
<text x="233.20" y="325.31" font-size="3.4" stroke="#666" stroke-width="0.15" text-anchor="end" fill="#666" transform="rotate(-60 233.20 325.31)">10</text>
<text x="233.20" y="339.74" font-size="3.4" stroke="#666" stroke-width="0.15" text-anchor="end" fill="#666" transform="rotate(-60 233.20 339.74)">10</text>
<text x="233.20" y="353.61" font-size="3.4" stroke="#666" stroke-width="0.15" text-anchor="end" fill="#666" transform="rotate(-60 233.20 353.61)">10</text>
<text x="233.20" y="366.93" font-size="3.4" stroke="#666" stroke-width="0.15" text-anchor="end" fill="#666" transform="rotate(-60 233.20 366.93)">10</text>
<text x="245.94" y="377.30" font-size="3.4" stroke="#666" stroke-width="0.15" text-anchor="end" fill="#666" transform="rotate(-60 245.94 377.30)">10</text>
<text x="262.81" y="377.30" font-size="3.4" stroke="#666" stroke-width="0.15" text-anchor="end" fill="#666" transform="rotate(-60 262.81 377.30)">10</text>
<text x="279.03" y="377.30" font-size="3.4" stroke="#666" stroke-width="0.15" text-anchor="end" fill="#666" transform="rotate(-60 279.03 377.30)">10</text>
<text x="295.26" y="377.30" font-size="3.4" stroke="#666" stroke-width="0.15" text-anchor="end" fill="#666" transform="rotate(-60 295.26 377.30)">10</text>
<text x="240.20" y="323.00" font-size="2.8" text-anchor="middle" fill="#999">Q1</text>
<text x="295.10" y="323.00" font-size="2.8" text-anchor="middle" fill="#999">Q1</text>
<text x="240.20" y="371.00" font-size="2.8" text-anchor="middle" fill="#999">Q1</text>
<text x="295.10" y="371.00" font-size="2.8" text-anchor="middle" fill="#999">Q1</text>
<text x="5.50" y="437.50" font-size="15" stroke="#111" stroke-width="0.45" font-weight="bold" fill="#111">D</text>
<text x="93.75" y="437.00" font-size="12.6" stroke="#222" stroke-width="0.45" fill="#222" textLength="83.00" lengthAdjust="spacingAndGlyphs">A375  (pH 6.7)</text>
<text x="30.75" y="456.25" font-size="9.6" stroke="#1a1a1a" stroke-width="0.4" textLength="56.75" lengthAdjust="spacingAndGlyphs">No treatment</text>
<text x="105.00" y="456.00" font-size="9.6" stroke="#1a1a1a" stroke-width="0.4" textLength="47.00" lengthAdjust="spacingAndGlyphs">Oligomycin</text>
<text x="173.75" y="455.75" font-size="9.6" stroke="#1a1a1a" stroke-width="0.4" textLength="49.50" lengthAdjust="spacingAndGlyphs">Phenformin</text>
<path d="M15.7 463V583.4H230.5" stroke="#222" stroke-width="1.3" fill="none"/>
<path d="M15.7 459.9L13.1 464.1H18.3Z" stroke="none" stroke-width="1" fill="#222"/>
<path d="M233.8 583.4L229.6 580.9V585.9Z" stroke="none" stroke-width="1" fill="#222"/>
<text x="10.90" y="520.20" font-size="9.0" stroke="#222" stroke-width="0.45" text-anchor="middle" fill="#222" transform="rotate(-90 10.90 520.20)">PI</text>
<text x="110.00" y="595.00" font-size="9.6" stroke="#1a1a1a" stroke-width="0.45" textLength="42.50" lengthAdjust="spacingAndGlyphs">Annexin V</text>
<text x="238.00" y="551.75" font-size="10.0" stroke="#1a1a1a" stroke-width="0.2" textLength="73.20" lengthAdjust="spacingAndGlyphs">Sodium pyruvate</text>
<ellipse cx="33.9" cy="504.4" rx="7.0" ry="4.2" fill="#444" fill-opacity="0.6" filter="url(#b2)" transform="rotate(-10 33.9 504.4)"/>
<ellipse cx="42.0" cy="502.0" rx="9.0" ry="4.0" fill="#999" fill-opacity="0.35" filter="url(#b2)" transform="rotate(-12 42.0 502.0)"/>
<path d="M40.0 505.6h.9M39.2 504.8h.9M38.2 506.3h.9M35.9 504.2h.9M35.9 511.4h.9M33.8 503.7h.9M32.1 504.6h.9M34.5 500.8h.9M24.3 507.0h.9M26.1 506.6h.9M35.2 507.7h.9M42.3 504.0h.9M30.6 501.4h.9M30.0 505.2h.9M34.2 506.3h.9M32.3 505.0h.9M30.0 503.7h.9M25.2 506.3h.9M41.6 503.5h.9M35.2 501.2h.9M40.5 500.9h.9M37.9 504.0h.9M29.7 508.3h.9M34.1 504.9h.9M36.1 503.9h.9M32.3 506.1h.9M31.9 504.9h.9M29.8 500.6h.9M30.3 503.5h.9M34.6 507.9h.9M25.6 506.2h.9M30.2 498.2h.9M24.8 506.5h.9M34.2 504.0h.9M31.1 511.5h.9M32.7 502.0h.9M42.5 504.8h.9M32.7 508.2h.9M35.0 506.2h.9M34.5 501.2h.9M38.8 504.0h.9M28.5 503.0h.9M38.4 502.5h.9M34.5 506.3h.9M33.7 499.8h.9M37.5 506.6h.9M39.0 508.4h.9M36.1 506.4h.9M41.6 502.2h.9M43.4 508.0h.9M38.7 509.2h.9M37.6 501.1h.9M39.7 504.4h.9M36.0 504.5h.9M40.9 504.9h.9M30.7 506.4h.9M37.1 501.6h.9M31.6 503.6h.9M31.1 506.0h.9M39.9 509.1h.9M40.3 506.4h.9M40.2 507.4h.9M32.4 506.8h.9M35.4 503.7h.9M31.4 503.3h.9M31.9 501.0h.9M36.5 503.9h.9M34.6 505.3h.9M37.2 502.0h.9M32.5 499.7h.9M40.5 497.7h.9M37.0 508.4h.9M32.5 509.6h.9M43.5 505.6h.9M45.9 504.2h.9M30.6 506.6h.9M31.1 500.9h.9M28.8 512.3h.9M31.3 504.8h.9M30.7 505.4h.9M32.6 503.4h.9M27.3 501.3h.9M30.4 505.9h.9M44.7 505.7h.9M43.2 504.3h.9M32.9 500.6h.9M32.9 498.1h.9M33.4 509.5h.9M36.2 507.5h.9M31.4 500.7h.9M31.4 503.7h.9M41.0 509.2h.9M30.2 504.0h.9M33.1 503.5h.9M28.0 505.8h.9M36.0 505.3h.9M28.0 505.2h.9M25.9 508.7h.9M28.9 504.5h.9M31.5 503.1h.9M27.9 500.2h.9M42.7 503.7h.9M36.5 510.4h.9M33.9 506.2h.9M34.8 508.0h.9M36.7 505.0h.9M33.0 505.5h.9M38.7 497.3h.9M33.2 503.3h.9M31.6 498.9h.9M37.2 501.3h.9M32.7 503.2h.9M25.6 504.6h.9M24.5 503.3h.9M32.5 504.7h.9M34.3 504.0h.9M44.8 503.9h.9M27.7 503.7h.9M30.8 504.5h.9M30.7 502.5h.9M42.2 503.2h.9M32.3 504.0h.9M33.7 508.8h.9M37.0 507.4h.9M40.3 509.4h.9M33.3 499.4h.9M36.7 502.2h.9M24.9 504.2h.9M39.9 507.1h.9M37.1 500.8h.9M45.9 498.8h.9M33.0 500.3h.9M40.8 504.7h.9M38.5 504.0h.9M33.9 505.1h.9M25.3 509.1h.9M38.4 502.5h.9M34.2 505.4h.9M42.1 504.4h.9M34.1 502.9h.9M26.4 504.0h.9M34.4 503.7h.9M34.9 506.6h.9M36.4 504.9h.9M37.5 504.5h.9M34.2 505.9h.9M26.3 509.7h.9M28.2 508.1h.9M34.8 507.8h.9M33.8 501.7h.9M39.5 504.1h.9M34.8 504.6h.9M39.5 506.1h.9M34.5 499.7h.9M32.2 505.2h.9M43.2 504.1h.9M34.4 508.1h.9M33.6 504.5h.9M34.2 500.0h.9M39.1 504.9h.9M32.2 501.4h.9M36.0 508.5h.9M30.5 501.9h.9M35.4 499.4h.9M30.7 504.3h.9" stroke="#333" stroke-opacity="0.17" stroke-width="0.9" fill="none"/>
<path d="M37.5 504.7h.9M39.9 500.0h.9M38.7 505.9h.9M52.8 504.1h.9M46.4 486.2h.9M32.5 502.8h.9M43.1 494.6h.9M56.8 500.5h.9M36.7 504.1h.9M38.5 499.5h.9M47.2 499.1h.9M28.2 502.3h.9M40.5 497.6h.9M54.0 494.7h.9M60.7 502.4h.9M33.6 504.7h.9M54.1 498.8h.9M31.1 505.1h.9M60.8 491.5h.9M48.1 501.0h.9M41.2 500.7h.9M40.6 507.4h.9M47.6 496.5h.9M56.8 493.2h.9M49.4 501.6h.9M54.8 501.2h.9M53.1 499.9h.9M52.6 501.7h.9M63.1 494.6h.9M54.9 501.7h.9M44.0 499.3h.9M45.8 494.8h.9M30.1 508.1h.9M28.9 511.7h.9M40.3 503.8h.9M43.9 503.9h.9M39.7 501.1h.9M42.6 507.1h.9M55.1 505.4h.9M46.2 500.5h.9M27.0 508.5h.9M50.7 498.7h.9M51.9 506.2h.9M44.7 506.6h.9M44.2 493.9h.9M37.8 501.4h.9M47.2 497.3h.9M37.6 498.9h.9M42.5 502.6h.9M53.1 503.7h.9M44.7 502.9h.9M44.0 502.4h.9M55.6 488.0h.9M41.4 503.9h.9M52.9 495.0h.9M47.0 505.3h.9M36.7 494.7h.9M38.2 497.6h.9M48.4 497.1h.9M60.4 499.1h.9M34.5 501.6h.9M32.5 506.2h.9M57.2 498.1h.9M51.0 496.1h.9M48.0 511.7h.9M30.2 510.5h.9M52.5 491.5h.9M27.9 500.9h.9M51.9 498.3h.9M41.8 505.6h.9M44.2 502.9h.9M40.7 507.8h.9M36.8 511.2h.9M38.8 499.4h.9M49.6 502.8h.9M28.8 501.3h.9M49.7 496.7h.9M45.9 499.8h.9M61.6 497.7h.9M30.3 499.7h.9M34.0 504.6h.9M43.6 506.4h.9M44.5 502.4h.9M45.8 500.9h.9M46.3 505.0h.9M49.9 498.1h.9M24.7 502.3h.9M43.1 490.6h.9M38.5 505.1h.9" stroke="#777" stroke-opacity="0.17" stroke-width="0.9" fill="none"/>
<path d="M70.7 469.4h.9M85.2 472.0h.9M73.3 473.9h.9M81.7 467.5h.9M72.4 469.2h.9M74.4 468.4h.9M74.7 473.2h.9M75.5 470.3h.9M83.2 467.7h.9M80.0 469.4h.9M75.6 470.9h.9M75.1 470.8h.9M69.5 470.7h.9M76.9 470.4h.9M67.2 470.9h.9M70.2 471.7h.9M75.4 471.0h.9M70.4 471.8h.9M65.2 466.8h.9M73.4 467.8h.9M68.2 469.6h.9M77.5 468.0h.9M75.7 469.8h.9M66.4 469.2h.9" stroke="#999" stroke-opacity="0.20" stroke-width="0.9" fill="none"/>
<path d="M23.20 462.00H88.20V514.40" stroke="#cfcfcf" stroke-width="0.9" fill="none"/>
<path d="M23.20 462.00V514.40H88.20" stroke="#8e8e8e" stroke-width="0.9" fill="none"/>
<line x1="23.20" y1="486.25" x2="88.20" y2="486.25" stroke="#777" stroke-width="0.9"/>
<line x1="54.25" y1="462.00" x2="54.25" y2="514.40" stroke="#777" stroke-width="0.9"/>
<text x="21.20" y="468.96" font-size="3.4" stroke="#666" stroke-width="0.15" text-anchor="end" fill="#666" transform="rotate(-60 21.20 468.96)">10</text>
<text x="21.20" y="482.59" font-size="3.4" stroke="#666" stroke-width="0.15" text-anchor="end" fill="#666" transform="rotate(-60 21.20 482.59)">10</text>
<text x="21.20" y="495.69" font-size="3.4" stroke="#666" stroke-width="0.15" text-anchor="end" fill="#666" transform="rotate(-60 21.20 495.69)">10</text>
<text x="21.20" y="508.26" font-size="3.4" stroke="#666" stroke-width="0.15" text-anchor="end" fill="#666" transform="rotate(-60 21.20 508.26)">10</text>
<text x="33.95" y="518.20" font-size="3.4" stroke="#666" stroke-width="0.15" text-anchor="end" fill="#666" transform="rotate(-60 33.95 518.20)">10</text>
<text x="50.85" y="518.20" font-size="3.4" stroke="#666" stroke-width="0.15" text-anchor="end" fill="#666" transform="rotate(-60 50.85 518.20)">10</text>
<text x="67.10" y="518.20" font-size="3.4" stroke="#666" stroke-width="0.15" text-anchor="end" fill="#666" transform="rotate(-60 67.10 518.20)">10</text>
<text x="83.35" y="518.20" font-size="3.4" stroke="#666" stroke-width="0.15" text-anchor="end" fill="#666" transform="rotate(-60 83.35 518.20)">10</text>
<text x="48.35" y="482.65" font-size="3.3" stroke="#555" stroke-width="0.2" text-anchor="middle" font-weight="bold" fill="#555">Q1</text>
<text x="60.15" y="482.65" font-size="3.3" stroke="#555" stroke-width="0.2" text-anchor="middle" font-weight="bold" fill="#555">Q1</text>
<text x="48.35" y="492.85" font-size="3.3" stroke="#555" stroke-width="0.2" text-anchor="middle" font-weight="bold" fill="#555">Q1</text>
<text x="60.15" y="492.85" font-size="3.3" stroke="#555" stroke-width="0.2" text-anchor="middle" font-weight="bold" fill="#555">Q1</text>
<ellipse cx="137.0" cy="471.8" rx="9.5" ry="2.3" fill="#444" fill-opacity="0.7" filter="url(#b1)" transform="rotate(-8 137.0 471.8)"/>
<ellipse cx="103.0" cy="503.7" rx="7.0" ry="4.5" fill="#888" fill-opacity="0.35" filter="url(#b2)" transform="rotate(-20 103.0 503.7)"/>
<path d="M106.3 504.3h.9M110.1 509.0h.9M105.1 504.2h.9M102.6 504.4h.9M100.0 501.1h.9M111.8 492.6h.9M105.2 504.9h.9M102.6 499.8h.9M101.4 502.4h.9M97.0 505.7h.9M100.0 502.5h.9M105.5 498.3h.9M104.7 500.5h.9M105.5 503.1h.9M103.0 499.5h.9M97.5 502.1h.9M105.0 506.1h.9M108.4 499.6h.9M101.2 497.4h.9M97.1 499.2h.9M96.1 499.0h.9M116.2 499.6h.9M102.0 506.9h.9M100.8 511.2h.9M101.0 501.1h.9M108.6 494.8h.9M99.1 506.0h.9M107.4 506.3h.9M107.7 511.2h.9M100.4 505.3h.9M107.2 500.7h.9M100.5 502.5h.9M97.6 500.7h.9M97.5 499.0h.9M102.7 496.9h.9M116.6 505.8h.9M108.6 500.6h.9M101.1 509.4h.9M104.5 505.4h.9M100.1 509.1h.9M98.3 505.7h.9M104.9 500.9h.9M101.2 507.5h.9M103.9 508.4h.9M103.4 496.8h.9M96.6 509.6h.9M95.8 503.4h.9M105.5 501.1h.9M104.1 499.4h.9M105.8 507.1h.9M101.5 494.7h.9M106.4 502.5h.9M99.4 510.7h.9M101.2 510.8h.9M100.6 498.7h.9M103.6 504.7h.9M107.1 506.5h.9M98.3 507.3h.9M106.4 501.1h.9M96.1 501.9h.9M107.9 505.1h.9M96.1 500.3h.9M107.5 495.3h.9M102.4 500.3h.9M103.5 509.4h.9M115.1 498.3h.9M109.8 505.4h.9M98.5 501.4h.9M111.1 498.9h.9M102.1 502.6h.9M101.0 501.6h.9M108.5 506.8h.9M98.6 499.2h.9M100.9 497.9h.9M100.7 509.5h.9M116.1 500.3h.9M97.7 508.7h.9M112.2 503.3h.9M107.3 501.7h.9M99.8 506.4h.9M96.8 497.6h.9M106.3 499.5h.9M95.2 500.7h.9M102.9 500.1h.9M105.7 501.3h.9M108.1 500.0h.9M96.3 497.6h.9M97.4 508.5h.9M118.0 492.7h.9M97.2 507.0h.9M104.4 500.1h.9M100.9 497.4h.9M102.2 507.6h.9M111.6 499.6h.9M101.8 505.8h.9M109.5 503.2h.9M98.9 506.5h.9M107.1 499.0h.9M95.8 508.2h.9M106.0 506.5h.9M102.2 501.0h.9" stroke="#666" stroke-opacity="0.17" stroke-width="0.9" fill="none"/>
<path d="M132.9 470.6h.9M129.0 471.9h.9M133.0 474.1h.9M126.9 473.1h.9M132.3 474.8h.9M138.6 470.9h.9M143.0 471.0h.9M133.2 474.7h.9M142.6 473.7h.9M145.9 471.7h.9M137.4 469.9h.9M142.2 471.1h.9M141.9 471.0h.9M131.0 471.0h.9M142.4 473.0h.9M134.5 472.8h.9M147.4 468.9h.9M133.7 470.4h.9M146.0 470.9h.9M132.7 469.7h.9M135.5 473.6h.9M134.2 471.4h.9M141.4 469.1h.9M137.2 472.7h.9M130.4 471.3h.9M138.6 471.4h.9M134.9 472.4h.9M138.2 470.1h.9M131.5 473.2h.9M145.8 472.7h.9M130.3 474.4h.9M142.7 470.9h.9M140.7 472.5h.9M150.5 468.2h.9M141.4 470.9h.9M135.3 473.8h.9M142.9 469.3h.9M134.6 472.5h.9M125.8 474.7h.9M136.2 472.1h.9M139.8 474.3h.9M136.9 471.2h.9M150.3 469.1h.9M132.3 470.2h.9M145.3 471.0h.9M140.5 471.5h.9M135.5 470.7h.9M130.7 473.3h.9M138.1 474.2h.9M130.7 471.9h.9M129.1 475.1h.9M127.3 474.4h.9M148.0 470.0h.9M142.0 467.7h.9M133.4 469.6h.9M138.1 471.6h.9M131.0 474.1h.9M139.4 470.6h.9M132.4 470.0h.9M135.8 475.3h.9M131.3 473.2h.9M132.7 473.7h.9M140.2 470.9h.9M122.7 472.9h.9M146.1 470.1h.9M141.6 470.3h.9M122.3 474.5h.9M139.2 470.5h.9M134.0 472.7h.9M132.2 473.0h.9M134.7 468.3h.9M135.5 471.0h.9M130.3 473.3h.9M133.1 473.2h.9M145.4 470.8h.9M124.5 472.3h.9M143.9 470.4h.9M130.5 472.5h.9M140.8 471.6h.9M141.7 469.8h.9M134.6 471.7h.9M136.2 468.5h.9M134.7 469.9h.9M148.1 472.7h.9M150.2 471.2h.9M133.2 473.8h.9M135.4 473.0h.9M129.6 471.9h.9M140.9 474.1h.9M137.2 475.3h.9M136.4 470.3h.9M135.7 471.1h.9M136.5 473.4h.9M144.3 471.2h.9M136.9 472.0h.9M138.0 472.6h.9M137.0 472.6h.9M126.8 474.5h.9M150.6 470.2h.9M126.1 475.5h.9M133.6 467.5h.9M135.3 473.0h.9M140.2 473.3h.9M141.8 471.3h.9M121.2 472.2h.9M138.4 472.7h.9M128.7 472.0h.9M140.2 468.3h.9M121.6 473.6h.9M138.8 470.8h.9M118.9 474.4h.9M126.6 474.3h.9M136.2 472.3h.9M141.8 470.3h.9M143.7 472.8h.9M140.3 473.4h.9M132.2 473.9h.9M138.8 470.0h.9M136.2 471.0h.9M132.6 472.5h.9M145.2 470.1h.9M137.6 469.4h.9M138.0 473.5h.9M143.4 471.6h.9M132.6 470.8h.9M135.9 469.8h.9M127.4 474.6h.9M130.1 475.6h.9M125.8 474.0h.9M127.8 473.4h.9M128.8 473.0h.9M135.6 471.3h.9M141.3 473.6h.9M132.5 473.8h.9M137.6 471.7h.9M153.6 466.0h.9M131.2 469.7h.9M134.4 471.8h.9M151.3 471.9h.9M133.6 473.0h.9M150.0 470.2h.9M138.7 472.4h.9M124.9 472.2h.9M139.7 472.3h.9M129.6 472.3h.9M135.9 471.7h.9M142.4 471.2h.9M137.9 469.4h.9" stroke="#333" stroke-opacity="0.23" stroke-width="0.9" fill="none"/>
<path d="M133.7 479.9h.9M130.4 479.8h.9M136.0 476.5h.9M143.8 476.9h.9M134.8 476.9h.9M140.2 487.1h.9M127.3 478.9h.9M138.5 481.8h.9M137.7 471.6h.9M147.8 475.7h.9M139.5 474.9h.9M133.4 477.5h.9M145.0 481.4h.9M136.3 480.4h.9M137.6 479.3h.9M140.8 480.8h.9M136.2 478.5h.9M141.1 479.2h.9M135.1 484.1h.9M137.1 481.2h.9M141.1 482.6h.9M126.8 485.0h.9M138.6 475.2h.9M140.6 485.6h.9M142.8 475.2h.9" stroke="#999" stroke-opacity="0.17" stroke-width="0.9" fill="none"/>
<path d="M94.00 461.80H159.20V514.40" stroke="#cfcfcf" stroke-width="0.9" fill="none"/>
<path d="M94.00 461.80V514.40H159.20" stroke="#8e8e8e" stroke-width="0.9" fill="none"/>
<line x1="94.00" y1="486.30" x2="159.20" y2="486.30" stroke="#777" stroke-width="0.9"/>
<line x1="125.10" y1="461.80" x2="125.10" y2="514.40" stroke="#777" stroke-width="0.9"/>
<text x="92.00" y="468.79" font-size="3.4" stroke="#666" stroke-width="0.15" text-anchor="end" fill="#666" transform="rotate(-60 92.00 468.79)">10</text>
<text x="92.00" y="482.46" font-size="3.4" stroke="#666" stroke-width="0.15" text-anchor="end" fill="#666" transform="rotate(-60 92.00 482.46)">10</text>
<text x="92.00" y="495.61" font-size="3.4" stroke="#666" stroke-width="0.15" text-anchor="end" fill="#666" transform="rotate(-60 92.00 495.61)">10</text>
<text x="92.00" y="508.24" font-size="3.4" stroke="#666" stroke-width="0.15" text-anchor="end" fill="#666" transform="rotate(-60 92.00 508.24)">10</text>
<text x="104.78" y="518.20" font-size="3.4" stroke="#666" stroke-width="0.15" text-anchor="end" fill="#666" transform="rotate(-60 104.78 518.20)">10</text>
<text x="121.73" y="518.20" font-size="3.4" stroke="#666" stroke-width="0.15" text-anchor="end" fill="#666" transform="rotate(-60 121.73 518.20)">10</text>
<text x="138.03" y="518.20" font-size="3.4" stroke="#666" stroke-width="0.15" text-anchor="end" fill="#666" transform="rotate(-60 138.03 518.20)">10</text>
<text x="154.33" y="518.20" font-size="3.4" stroke="#666" stroke-width="0.15" text-anchor="end" fill="#666" transform="rotate(-60 154.33 518.20)">10</text>
<text x="119.20" y="482.70" font-size="3.3" stroke="#555" stroke-width="0.2" text-anchor="middle" font-weight="bold" fill="#555">Q1</text>
<text x="131.00" y="482.70" font-size="3.3" stroke="#555" stroke-width="0.2" text-anchor="middle" font-weight="bold" fill="#555">Q1</text>
<text x="119.20" y="492.90" font-size="3.3" stroke="#555" stroke-width="0.2" text-anchor="middle" font-weight="bold" fill="#555">Q1</text>
<text x="131.00" y="492.90" font-size="3.3" stroke="#555" stroke-width="0.2" text-anchor="middle" font-weight="bold" fill="#555">Q1</text>
<ellipse cx="216.5" cy="470.5" rx="6.0" ry="1.8" fill="#666" fill-opacity="0.55" filter="url(#b1)" transform="rotate(-6 216.5 470.5)"/>
<ellipse cx="176.0" cy="505.0" rx="6.0" ry="4.0" fill="#999" fill-opacity="0.35" filter="url(#b2)" transform="rotate(-15 176.0 505.0)"/>
<path d="M174.8 510.0h.9M168.9 506.1h.9M176.4 512.6h.9M175.6 509.7h.9M171.9 503.1h.9M181.2 505.7h.9M168.1 509.3h.9M178.4 502.0h.9M177.1 505.6h.9M173.0 503.6h.9M172.4 504.9h.9M169.4 506.5h.9M168.7 507.1h.9M174.5 501.6h.9M181.6 510.3h.9M180.9 498.6h.9M182.1 504.0h.9M175.0 503.0h.9M177.0 509.6h.9M178.0 502.8h.9M172.2 504.4h.9M180.3 510.4h.9M170.7 506.3h.9M173.3 502.9h.9M178.2 506.3h.9M168.1 503.3h.9M181.8 504.5h.9M177.9 502.6h.9M174.4 507.0h.9M172.4 501.8h.9M176.6 508.0h.9M171.8 509.8h.9M178.4 501.1h.9M175.8 504.8h.9M179.4 506.3h.9M168.4 502.1h.9M180.8 504.0h.9M178.1 505.5h.9M182.0 498.9h.9M180.3 500.8h.9M180.5 508.5h.9M169.6 508.0h.9M174.2 504.3h.9M175.1 501.4h.9M171.8 508.4h.9M179.3 501.9h.9M181.4 504.7h.9M170.4 504.3h.9M176.1 501.4h.9M183.6 503.3h.9M176.8 501.0h.9M170.8 503.5h.9M176.9 503.7h.9M174.7 506.3h.9M178.2 509.6h.9M174.0 501.8h.9M177.1 509.8h.9M173.2 505.8h.9M174.5 506.7h.9M176.3 501.9h.9M175.6 508.4h.9M181.8 506.6h.9M179.6 502.7h.9M174.9 508.5h.9M170.2 506.2h.9M166.7 506.0h.9M171.4 501.8h.9M177.9 501.7h.9M173.8 504.5h.9M173.6 510.6h.9M173.6 506.2h.9M169.2 505.0h.9M174.0 504.3h.9M173.2 506.2h.9M183.1 502.5h.9M174.8 503.8h.9M189.3 507.1h.9M179.1 506.6h.9M172.3 505.3h.9M176.9 505.1h.9M171.1 503.4h.9M178.5 505.3h.9M181.3 501.2h.9M175.7 499.8h.9M178.8 500.2h.9M169.6 505.5h.9M186.5 499.9h.9M170.3 508.1h.9M178.4 510.1h.9M168.4 501.3h.9M174.7 506.6h.9M178.5 508.1h.9M168.0 504.1h.9M175.9 507.9h.9M177.7 502.9h.9M171.8 509.2h.9M182.7 512.7h.9M176.4 510.5h.9" stroke="#777" stroke-opacity="0.17" stroke-width="0.9" fill="none"/>
<path d="M209.8 470.4h.9M212.6 470.2h.9M211.6 470.2h.9M216.0 469.8h.9M219.9 470.0h.9M216.6 472.6h.9M218.0 470.5h.9M216.2 470.6h.9M219.3 469.0h.9M222.7 472.1h.9M222.4 469.1h.9M207.7 470.7h.9M217.3 471.6h.9M215.3 470.1h.9M224.4 468.6h.9M222.2 471.2h.9M209.3 471.6h.9M213.2 469.4h.9M206.2 469.2h.9M218.5 469.7h.9M217.6 468.8h.9M214.6 470.3h.9M207.8 468.9h.9M218.7 470.4h.9M211.3 470.9h.9M220.2 472.8h.9M211.7 471.9h.9M227.7 469.4h.9M223.8 465.9h.9M224.1 469.6h.9M206.4 472.7h.9M222.1 471.6h.9M222.8 469.8h.9M212.3 470.2h.9M216.2 471.1h.9M213.8 470.8h.9M221.1 470.5h.9M229.0 472.3h.9M210.1 470.3h.9M209.1 469.5h.9M219.1 468.7h.9M210.7 470.7h.9M220.6 469.5h.9M214.6 472.0h.9M218.9 470.9h.9M221.3 468.5h.9M217.4 469.4h.9M222.0 471.1h.9M210.9 473.0h.9M210.2 472.8h.9M217.3 469.1h.9M210.3 470.7h.9M216.1 469.4h.9M219.1 468.1h.9M216.3 470.5h.9M206.3 472.0h.9M209.2 467.5h.9M213.0 470.5h.9M221.1 469.2h.9M224.5 471.8h.9M222.4 471.8h.9M218.1 469.5h.9M220.0 471.5h.9M217.6 470.0h.9M208.0 472.4h.9M218.0 468.4h.9M217.0 471.5h.9M215.9 471.7h.9M220.2 467.9h.9M214.8 471.4h.9M221.5 472.0h.9M206.0 471.5h.9M220.4 471.9h.9M225.3 468.1h.9M214.2 469.1h.9M220.5 468.1h.9M222.9 471.2h.9M218.6 467.0h.9M212.8 472.0h.9M208.6 470.9h.9M215.9 471.8h.9M217.9 470.7h.9M213.9 470.7h.9M215.7 471.6h.9M215.5 472.1h.9M207.3 473.2h.9M215.6 472.2h.9M216.9 471.7h.9M224.3 468.8h.9M216.7 470.2h.9" stroke="#444" stroke-opacity="0.20" stroke-width="0.9" fill="none"/>
<path d="M165.60 462.00H230.50V514.40" stroke="#cfcfcf" stroke-width="0.9" fill="none"/>
<path d="M165.60 462.00V514.40H230.50" stroke="#8e8e8e" stroke-width="0.9" fill="none"/>
<line x1="165.60" y1="485.75" x2="230.50" y2="485.75" stroke="#777" stroke-width="0.9"/>
<line x1="196.25" y1="462.00" x2="196.25" y2="514.40" stroke="#777" stroke-width="0.9"/>
<text x="163.60" y="468.96" font-size="3.4" stroke="#666" stroke-width="0.15" text-anchor="end" fill="#666" transform="rotate(-60 163.60 468.96)">10</text>
<text x="163.60" y="482.59" font-size="3.4" stroke="#666" stroke-width="0.15" text-anchor="end" fill="#666" transform="rotate(-60 163.60 482.59)">10</text>
<text x="163.60" y="495.69" font-size="3.4" stroke="#666" stroke-width="0.15" text-anchor="end" fill="#666" transform="rotate(-60 163.60 495.69)">10</text>
<text x="163.60" y="508.26" font-size="3.4" stroke="#666" stroke-width="0.15" text-anchor="end" fill="#666" transform="rotate(-60 163.60 508.26)">10</text>
<text x="176.34" y="518.20" font-size="3.4" stroke="#666" stroke-width="0.15" text-anchor="end" fill="#666" transform="rotate(-60 176.34 518.20)">10</text>
<text x="193.21" y="518.20" font-size="3.4" stroke="#666" stroke-width="0.15" text-anchor="end" fill="#666" transform="rotate(-60 193.21 518.20)">10</text>
<text x="209.43" y="518.20" font-size="3.4" stroke="#666" stroke-width="0.15" text-anchor="end" fill="#666" transform="rotate(-60 209.43 518.20)">10</text>
<text x="225.66" y="518.20" font-size="3.4" stroke="#666" stroke-width="0.15" text-anchor="end" fill="#666" transform="rotate(-60 225.66 518.20)">10</text>
<text x="190.35" y="482.15" font-size="3.3" stroke="#555" stroke-width="0.2" text-anchor="middle" font-weight="bold" fill="#555">Q1</text>
<text x="202.15" y="482.15" font-size="3.3" stroke="#555" stroke-width="0.2" text-anchor="middle" font-weight="bold" fill="#555">Q1</text>
<text x="190.35" y="492.35" font-size="3.3" stroke="#555" stroke-width="0.2" text-anchor="middle" font-weight="bold" fill="#555">Q1</text>
<text x="202.15" y="492.35" font-size="3.3" stroke="#555" stroke-width="0.2" text-anchor="middle" font-weight="bold" fill="#555">Q1</text>
<ellipse cx="32.5" cy="564.5" rx="7.0" ry="4.5" fill="#444" fill-opacity="0.6" filter="url(#b2)" transform="rotate(-10 32.5 564.5)"/>
<ellipse cx="41.0" cy="562.0" rx="9.0" ry="4.0" fill="#999" fill-opacity="0.35" filter="url(#b2)" transform="rotate(-12 41.0 562.0)"/>
<path d="M32.5 559.2h.9M31.4 563.8h.9M28.4 564.5h.9M25.6 570.1h.9M35.5 569.9h.9M27.4 561.5h.9M32.8 559.0h.9M33.0 562.0h.9M30.8 565.5h.9M33.6 570.2h.9M34.7 559.9h.9M36.3 559.4h.9M32.0 560.5h.9M29.0 569.2h.9M29.2 562.9h.9M29.4 563.9h.9M38.7 559.5h.9M26.6 567.3h.9M24.3 564.6h.9M37.8 563.4h.9M29.6 562.6h.9M27.5 563.4h.9M33.6 568.2h.9M36.7 561.8h.9M29.1 567.2h.9M30.1 561.2h.9M27.6 566.3h.9M29.1 565.2h.9M26.1 568.9h.9M30.6 563.8h.9M30.1 562.6h.9M28.0 568.8h.9M33.1 563.8h.9M36.6 561.3h.9M35.2 563.9h.9M28.2 567.5h.9M25.2 567.7h.9M28.1 566.4h.9M39.1 564.9h.9M29.2 564.8h.9M29.7 561.0h.9M26.8 565.4h.9M33.7 558.4h.9M32.0 566.0h.9M32.1 561.1h.9M36.4 559.7h.9M36.1 568.7h.9M33.7 564.7h.9M28.1 564.0h.9M25.3 565.9h.9M34.3 561.8h.9M27.3 563.6h.9M32.0 564.5h.9M31.5 564.6h.9M24.2 557.0h.9M35.8 568.2h.9M24.8 563.4h.9M34.0 567.0h.9M35.8 567.7h.9M31.9 565.6h.9M33.7 562.6h.9M38.1 565.2h.9M36.5 562.2h.9M36.4 560.1h.9M32.4 555.9h.9M27.5 567.4h.9M29.9 565.2h.9M25.0 570.4h.9M34.8 563.7h.9M34.1 564.9h.9M38.9 563.7h.9M24.7 564.7h.9M38.5 564.9h.9M30.3 566.5h.9M32.8 566.1h.9M23.8 562.9h.9M35.0 563.0h.9M34.7 570.0h.9M30.6 565.3h.9M28.9 562.8h.9M30.8 559.9h.9M32.1 567.8h.9M32.6 564.6h.9M35.6 565.9h.9M26.8 569.0h.9M27.4 565.7h.9M44.3 562.4h.9M39.8 561.8h.9M34.9 563.9h.9M33.5 561.3h.9M27.7 566.1h.9M24.0 563.0h.9M34.7 561.8h.9M27.1 561.6h.9M32.5 563.0h.9M32.6 563.6h.9M40.6 561.4h.9M32.1 564.8h.9M24.9 569.1h.9M31.8 564.2h.9M24.6 567.1h.9M32.4 568.5h.9M29.3 560.8h.9M32.1 561.4h.9M33.4 560.6h.9M31.2 563.7h.9M31.5 562.7h.9M28.0 564.8h.9M29.3 565.2h.9M29.4 557.6h.9M32.4 568.6h.9M33.7 565.9h.9M33.9 562.5h.9M26.0 567.9h.9M37.3 565.1h.9M34.2 565.1h.9M32.0 565.1h.9M32.2 565.3h.9M27.1 563.2h.9M34.5 562.8h.9M35.8 565.7h.9M28.2 561.4h.9M31.0 564.5h.9M28.4 565.4h.9M35.6 565.5h.9M25.9 558.6h.9M31.7 562.3h.9M35.0 568.9h.9M39.9 563.8h.9M38.1 568.3h.9M32.4 565.1h.9M36.0 563.5h.9M29.3 562.5h.9M31.7 562.4h.9M35.6 562.6h.9M39.6 566.7h.9M26.8 568.6h.9M30.9 568.8h.9M34.4 563.8h.9M34.9 562.1h.9M33.8 565.2h.9M31.6 565.6h.9M27.7 566.8h.9M26.7 567.2h.9M34.7 566.1h.9M31.1 565.0h.9M29.3 569.3h.9M30.5 567.7h.9M27.9 566.1h.9M30.9 567.5h.9M30.4 562.0h.9M33.7 560.4h.9M28.1 567.5h.9M23.8 568.2h.9M29.8 562.0h.9M33.7 566.1h.9M29.4 564.3h.9M36.4 566.0h.9M31.6 562.1h.9M27.5 563.4h.9M35.7 565.6h.9M34.4 568.3h.9M30.7 563.5h.9M31.5 570.4h.9M34.4 564.2h.9M43.8 566.0h.9M35.4 561.1h.9M34.5 562.9h.9M32.7 565.0h.9M30.4 566.7h.9M40.5 566.2h.9" stroke="#333" stroke-opacity="0.17" stroke-width="0.9" fill="none"/>
<path d="M37.3 552.6h.9M49.0 564.2h.9M35.4 560.3h.9M42.8 556.7h.9M43.7 555.1h.9M29.5 564.3h.9M24.6 565.5h.9M41.1 554.7h.9M45.6 557.2h.9M43.1 561.6h.9M33.1 560.7h.9M32.9 571.3h.9M45.5 553.3h.9M45.4 561.0h.9M35.0 565.0h.9M44.4 557.5h.9M35.6 563.4h.9M29.2 565.2h.9M36.4 559.1h.9M30.7 565.4h.9M46.3 561.4h.9M31.1 567.5h.9M40.2 564.3h.9M47.4 555.1h.9M36.0 559.6h.9M32.5 573.2h.9M44.3 551.7h.9M41.2 558.5h.9M48.4 559.6h.9M36.6 563.1h.9M41.5 561.2h.9M35.8 561.9h.9M41.2 555.7h.9M37.8 561.5h.9M34.5 566.5h.9M25.9 563.5h.9M31.0 566.5h.9M33.8 563.3h.9M39.5 553.9h.9M41.2 557.5h.9M35.6 562.1h.9M46.2 563.4h.9M54.1 558.5h.9M33.1 560.9h.9M45.8 567.6h.9M40.4 558.6h.9M40.8 562.5h.9M37.4 558.6h.9M47.8 560.4h.9M38.3 556.1h.9M44.3 556.5h.9M43.1 560.7h.9M28.2 567.9h.9M27.5 571.3h.9M37.3 557.2h.9" stroke="#777" stroke-opacity="0.17" stroke-width="0.9" fill="none"/>
<path d="M80.6 527.5h.9M82.1 529.3h.9M71.8 531.1h.9M72.0 533.4h.9M73.3 528.1h.9M84.7 529.9h.9M66.9 531.7h.9M68.1 532.1h.9M75.2 530.9h.9M69.5 530.5h.9M77.6 529.9h.9M85.1 527.2h.9M77.3 530.2h.9M69.3 533.9h.9M73.4 529.5h.9M71.6 532.9h.9M66.7 534.4h.9M76.7 529.8h.9M81.0 532.0h.9M76.3 530.6h.9M83.6 531.0h.9M67.8 531.8h.9M71.7 530.6h.9M65.1 534.1h.9M73.5 531.0h.9M80.6 528.5h.9M72.8 531.5h.9M70.6 531.3h.9M77.2 530.1h.9M80.1 528.3h.9M73.7 528.7h.9M72.1 530.1h.9M80.7 530.5h.9M76.4 533.1h.9M81.2 530.4h.9" stroke="#888" stroke-opacity="0.23" stroke-width="0.9" fill="none"/>
<path d="M22.80 522.20H87.60V575.00" stroke="#cfcfcf" stroke-width="0.9" fill="none"/>
<path d="M22.80 522.20V575.00H87.60" stroke="#8e8e8e" stroke-width="0.9" fill="none"/>
<line x1="22.80" y1="546.25" x2="87.60" y2="546.25" stroke="#777" stroke-width="0.9"/>
<line x1="53.75" y1="522.20" x2="53.75" y2="575.00" stroke="#777" stroke-width="0.9"/>
<text x="20.80" y="529.21" font-size="3.4" stroke="#666" stroke-width="0.15" text-anchor="end" fill="#666" transform="rotate(-60 20.80 529.21)">10</text>
<text x="20.80" y="542.94" font-size="3.4" stroke="#666" stroke-width="0.15" text-anchor="end" fill="#666" transform="rotate(-60 20.80 542.94)">10</text>
<text x="20.80" y="556.14" font-size="3.4" stroke="#666" stroke-width="0.15" text-anchor="end" fill="#666" transform="rotate(-60 20.80 556.14)">10</text>
<text x="20.80" y="568.81" font-size="3.4" stroke="#666" stroke-width="0.15" text-anchor="end" fill="#666" transform="rotate(-60 20.80 568.81)">10</text>
<text x="33.52" y="578.80" font-size="3.4" stroke="#666" stroke-width="0.15" text-anchor="end" fill="#666" transform="rotate(-60 33.52 578.80)">10</text>
<text x="50.37" y="578.80" font-size="3.4" stroke="#666" stroke-width="0.15" text-anchor="end" fill="#666" transform="rotate(-60 50.37 578.80)">10</text>
<text x="66.57" y="578.80" font-size="3.4" stroke="#666" stroke-width="0.15" text-anchor="end" fill="#666" transform="rotate(-60 66.57 578.80)">10</text>
<text x="82.77" y="578.80" font-size="3.4" stroke="#666" stroke-width="0.15" text-anchor="end" fill="#666" transform="rotate(-60 82.77 578.80)">10</text>
<text x="47.85" y="542.65" font-size="3.3" stroke="#555" stroke-width="0.2" text-anchor="middle" font-weight="bold" fill="#555">Q1</text>
<text x="59.65" y="542.65" font-size="3.3" stroke="#555" stroke-width="0.2" text-anchor="middle" font-weight="bold" fill="#555">Q1</text>
<text x="47.85" y="552.85" font-size="3.3" stroke="#555" stroke-width="0.2" text-anchor="middle" font-weight="bold" fill="#555">Q1</text>
<text x="59.65" y="552.85" font-size="3.3" stroke="#555" stroke-width="0.2" text-anchor="middle" font-weight="bold" fill="#555">Q1</text>
<ellipse cx="137.0" cy="531.5" rx="10.0" ry="2.8" fill="#444" fill-opacity="0.7" filter="url(#b1)" transform="rotate(-5 137.0 531.5)"/>
<path d="M131.6 529.5h.9M136.7 530.9h.9M132.1 531.4h.9M124.8 535.1h.9M128.3 531.1h.9M141.0 528.4h.9M144.1 532.5h.9M134.5 529.9h.9M133.2 528.7h.9M147.4 530.7h.9M131.3 530.4h.9M141.5 533.7h.9M127.3 531.4h.9M123.9 533.8h.9M138.5 535.2h.9M136.0 530.8h.9M131.8 533.4h.9M124.8 533.8h.9M138.8 530.5h.9M130.3 533.9h.9M151.0 529.5h.9M141.3 534.1h.9M132.3 531.5h.9M127.8 532.1h.9M136.3 530.8h.9M131.2 529.3h.9M126.7 530.7h.9M141.8 530.2h.9M130.7 533.2h.9M141.1 529.8h.9M132.4 533.0h.9M139.6 529.8h.9M138.8 531.3h.9M145.3 529.3h.9M143.8 531.7h.9M129.5 534.0h.9M143.7 528.6h.9M151.9 528.2h.9M130.0 531.6h.9M142.9 532.0h.9M136.5 533.9h.9M140.3 533.6h.9M117.3 532.4h.9M128.8 532.4h.9M137.6 529.3h.9M128.1 531.8h.9M135.1 527.1h.9M144.5 530.9h.9M137.0 532.0h.9M129.1 532.1h.9M145.1 532.7h.9M140.5 530.7h.9M130.9 534.3h.9M141.0 530.4h.9M120.1 531.5h.9M122.3 535.0h.9M138.3 530.1h.9M135.3 536.2h.9M146.2 528.3h.9M135.8 529.4h.9M123.6 533.0h.9M156.0 532.6h.9M137.3 530.8h.9M138.7 533.2h.9M125.3 529.2h.9M151.7 530.7h.9M149.6 530.8h.9M148.5 529.4h.9M141.1 533.9h.9M144.9 530.0h.9M143.9 529.7h.9M125.9 533.4h.9M148.1 532.0h.9M127.2 533.9h.9M142.3 530.2h.9M117.6 535.0h.9M144.1 531.8h.9M123.1 530.0h.9M145.1 532.2h.9M140.9 530.7h.9M140.0 530.3h.9M134.4 530.2h.9M139.0 530.6h.9M144.7 532.1h.9M130.9 535.3h.9M128.2 533.1h.9M145.8 533.0h.9M119.6 534.8h.9M146.9 533.2h.9M119.2 531.8h.9M136.1 530.8h.9M147.6 529.4h.9M146.9 531.6h.9M125.3 530.7h.9M133.3 532.0h.9M144.9 530.5h.9M144.0 528.0h.9M112.7 533.0h.9M140.6 530.5h.9M129.0 533.0h.9M152.4 530.0h.9M131.1 530.5h.9M152.7 530.1h.9M142.1 533.3h.9M145.4 529.1h.9M144.8 532.3h.9M141.1 533.0h.9M132.5 531.8h.9M132.9 533.2h.9M131.9 532.7h.9M128.3 532.0h.9M134.1 531.5h.9M138.0 531.1h.9M134.9 527.9h.9M145.7 529.6h.9M134.9 530.2h.9M144.8 529.2h.9M141.2 533.3h.9M150.3 532.5h.9M141.7 528.9h.9M147.5 532.7h.9M143.8 532.4h.9M137.6 530.5h.9M145.8 533.0h.9M128.9 533.9h.9M139.1 532.9h.9M139.4 533.3h.9M145.4 532.4h.9M126.3 533.9h.9M137.3 529.5h.9M142.5 528.6h.9M144.5 533.9h.9M133.3 533.5h.9M140.8 532.4h.9M126.5 533.5h.9M138.3 532.7h.9M137.4 533.5h.9M139.5 532.5h.9M148.0 530.9h.9M145.1 531.2h.9M141.3 530.2h.9M143.5 533.2h.9M136.7 533.0h.9M140.4 529.3h.9M140.2 533.6h.9M133.1 528.7h.9M138.8 530.3h.9M152.2 530.2h.9M137.1 530.4h.9M139.1 530.4h.9M130.2 532.0h.9M131.1 534.4h.9M128.1 532.2h.9M131.7 529.6h.9M150.0 526.7h.9M148.4 528.1h.9M138.3 535.5h.9M120.4 530.6h.9M147.6 530.9h.9M133.0 531.9h.9M129.8 532.4h.9M148.9 529.8h.9M138.6 533.6h.9M152.7 529.1h.9M139.5 530.3h.9M132.2 531.3h.9M132.1 528.9h.9M121.6 531.6h.9M138.5 533.6h.9" stroke="#333" stroke-opacity="0.23" stroke-width="0.9" fill="none"/>
<path d="M134.6 537.6h.9M142.8 540.3h.9M137.5 537.9h.9M151.1 537.1h.9M134.9 533.3h.9M141.2 537.3h.9M151.3 537.1h.9M143.8 540.8h.9M149.5 534.3h.9M149.0 538.1h.9M137.5 537.2h.9M135.5 537.1h.9M122.3 539.6h.9M138.7 535.3h.9M137.8 544.9h.9M140.8 537.0h.9M150.0 535.8h.9M137.2 536.5h.9M136.6 540.2h.9M142.2 536.0h.9M137.4 538.4h.9M135.4 538.0h.9M133.3 535.9h.9M138.5 535.1h.9M141.1 537.5h.9M131.9 536.3h.9M135.0 537.6h.9M139.0 537.5h.9M132.3 542.3h.9M144.4 538.4h.9M144.7 539.0h.9M136.5 538.3h.9M156.4 541.0h.9M145.3 536.9h.9M142.3 544.7h.9M141.1 541.2h.9M146.8 540.0h.9M148.9 538.8h.9M141.6 536.3h.9M156.1 539.0h.9" stroke="#999" stroke-opacity="0.17" stroke-width="0.9" fill="none"/>
<path d="M111.3 568.1h.9M105.1 563.2h.9M103.3 564.0h.9M106.7 565.4h.9M106.4 559.6h.9M106.2 562.2h.9M106.5 567.5h.9M112.8 561.2h.9M101.5 567.2h.9M100.4 565.9h.9M107.6 559.3h.9M101.8 560.8h.9M120.8 556.1h.9M108.5 566.9h.9M112.6 565.9h.9M98.6 560.0h.9M129.3 554.2h.9M106.6 563.5h.9M112.6 554.4h.9M110.0 561.3h.9M112.8 561.3h.9M103.4 559.4h.9M98.2 563.6h.9M118.1 556.3h.9M111.7 559.7h.9M112.7 560.6h.9M107.2 569.3h.9M104.3 556.6h.9M107.0 565.3h.9" stroke="#aaa" stroke-opacity="0.17" stroke-width="0.9" fill="none"/>
<path d="M93.60 522.20H158.60V575.00" stroke="#cfcfcf" stroke-width="0.9" fill="none"/>
<path d="M93.60 522.20V575.00H158.60" stroke="#8e8e8e" stroke-width="0.9" fill="none"/>
<line x1="93.60" y1="546.20" x2="158.60" y2="546.20" stroke="#777" stroke-width="0.9"/>
<line x1="124.50" y1="522.20" x2="124.50" y2="575.00" stroke="#777" stroke-width="0.9"/>
<text x="91.60" y="529.21" font-size="3.4" stroke="#666" stroke-width="0.15" text-anchor="end" fill="#666" transform="rotate(-60 91.60 529.21)">10</text>
<text x="91.60" y="542.94" font-size="3.4" stroke="#666" stroke-width="0.15" text-anchor="end" fill="#666" transform="rotate(-60 91.60 542.94)">10</text>
<text x="91.60" y="556.14" font-size="3.4" stroke="#666" stroke-width="0.15" text-anchor="end" fill="#666" transform="rotate(-60 91.60 556.14)">10</text>
<text x="91.60" y="568.81" font-size="3.4" stroke="#666" stroke-width="0.15" text-anchor="end" fill="#666" transform="rotate(-60 91.60 568.81)">10</text>
<text x="104.35" y="578.80" font-size="3.4" stroke="#666" stroke-width="0.15" text-anchor="end" fill="#666" transform="rotate(-60 104.35 578.80)">10</text>
<text x="121.25" y="578.80" font-size="3.4" stroke="#666" stroke-width="0.15" text-anchor="end" fill="#666" transform="rotate(-60 121.25 578.80)">10</text>
<text x="137.50" y="578.80" font-size="3.4" stroke="#666" stroke-width="0.15" text-anchor="end" fill="#666" transform="rotate(-60 137.50 578.80)">10</text>
<text x="153.75" y="578.80" font-size="3.4" stroke="#666" stroke-width="0.15" text-anchor="end" fill="#666" transform="rotate(-60 153.75 578.80)">10</text>
<text x="118.60" y="542.60" font-size="3.3" stroke="#555" stroke-width="0.2" text-anchor="middle" font-weight="bold" fill="#555">Q1</text>
<text x="130.40" y="542.60" font-size="3.3" stroke="#555" stroke-width="0.2" text-anchor="middle" font-weight="bold" fill="#555">Q1</text>
<text x="118.60" y="552.80" font-size="3.3" stroke="#555" stroke-width="0.2" text-anchor="middle" font-weight="bold" fill="#555">Q1</text>
<text x="130.40" y="552.80" font-size="3.3" stroke="#555" stroke-width="0.2" text-anchor="middle" font-weight="bold" fill="#555">Q1</text>
<ellipse cx="211.0" cy="531.5" rx="9.5" ry="2.6" fill="#444" fill-opacity="0.65" filter="url(#b1)" transform="rotate(-5 211.0 531.5)"/>
<path d="M202.8 533.6h.9M217.4 534.7h.9M206.4 533.1h.9M198.4 531.9h.9M212.1 532.2h.9M210.8 531.4h.9M206.4 531.2h.9M213.6 532.3h.9M216.3 532.8h.9M220.0 527.6h.9M207.2 531.6h.9M206.4 533.8h.9M216.9 530.8h.9M212.3 533.6h.9M208.5 531.2h.9M218.2 531.7h.9M222.1 531.2h.9M216.8 530.1h.9M204.0 532.1h.9M191.0 534.0h.9M218.6 531.0h.9M209.7 533.5h.9M211.0 533.2h.9M228.1 531.3h.9M218.4 531.7h.9M213.2 531.8h.9M211.9 533.3h.9M198.9 532.1h.9M216.1 529.6h.9M210.3 530.4h.9M214.7 532.7h.9M222.4 531.4h.9M205.8 532.4h.9M215.8 533.6h.9M194.9 533.6h.9M197.4 534.0h.9M214.7 532.1h.9M218.0 531.6h.9M206.3 532.6h.9M220.3 530.5h.9M211.2 529.4h.9M220.0 529.9h.9M205.5 531.3h.9M204.6 531.7h.9M221.0 532.0h.9M222.3 533.1h.9M204.5 532.9h.9M223.0 534.5h.9M200.2 530.0h.9M214.7 530.6h.9M203.7 532.8h.9M204.9 528.2h.9M211.0 531.8h.9M216.2 532.7h.9M212.5 531.0h.9M205.9 529.1h.9M208.0 533.5h.9M216.5 534.6h.9M209.8 528.6h.9M217.6 532.7h.9M202.0 529.5h.9M212.4 532.6h.9M202.6 531.7h.9M205.1 530.0h.9M201.2 532.6h.9M208.2 530.6h.9M191.6 536.2h.9M203.9 531.9h.9M202.5 532.9h.9M199.7 532.7h.9M209.8 533.2h.9M202.7 531.1h.9M209.6 535.3h.9M200.0 533.0h.9M206.2 532.5h.9M216.1 531.3h.9M213.1 531.8h.9M206.6 531.5h.9M198.4 532.0h.9M205.2 531.6h.9M216.7 531.7h.9M214.8 533.1h.9M193.0 533.8h.9M210.9 531.4h.9M201.2 533.3h.9M219.9 532.5h.9M210.5 532.7h.9M218.3 534.0h.9M220.4 530.9h.9M211.8 531.7h.9M212.7 530.5h.9M216.8 529.8h.9M205.0 532.6h.9M206.6 531.5h.9M195.4 534.2h.9M211.0 531.3h.9M214.6 531.6h.9M206.0 535.4h.9M207.7 533.5h.9M224.9 529.2h.9M211.6 530.0h.9M219.0 530.2h.9M202.9 534.5h.9M217.9 529.4h.9M220.0 531.0h.9M206.8 531.4h.9M204.4 532.3h.9M211.5 532.7h.9M211.5 528.9h.9M205.1 534.5h.9M219.8 530.5h.9M209.9 531.3h.9M210.9 528.6h.9M217.7 529.8h.9M211.7 527.1h.9M213.0 533.6h.9M194.2 535.6h.9M214.5 529.9h.9M199.1 534.5h.9M213.1 532.3h.9M208.8 530.3h.9M217.5 529.3h.9M217.6 528.0h.9M203.7 529.6h.9M220.7 527.6h.9M202.4 533.4h.9M213.1 535.1h.9M225.1 531.3h.9M216.0 527.9h.9M204.2 531.5h.9M209.4 529.3h.9M203.8 530.7h.9M219.2 531.5h.9M208.4 531.2h.9M213.1 530.1h.9M208.7 528.7h.9M216.2 532.7h.9M213.8 532.1h.9M214.1 534.8h.9M212.4 529.1h.9M203.1 533.4h.9M219.2 532.1h.9M217.4 531.3h.9M199.5 531.3h.9M197.1 532.0h.9M200.6 532.6h.9M209.4 528.3h.9M216.7 532.3h.9M200.4 532.7h.9" stroke="#333" stroke-opacity="0.23" stroke-width="0.9" fill="none"/>
<path d="M184.0 559.0h.9M185.7 560.9h.9M187.0 560.4h.9M179.7 564.7h.9M185.3 561.3h.9M175.8 559.4h.9M176.6 560.2h.9M181.5 562.3h.9M179.4 562.2h.9M183.6 568.7h.9M186.6 556.6h.9M182.0 559.5h.9M178.9 561.1h.9M173.7 557.2h.9M185.9 555.1h.9M182.4 559.0h.9M180.3 557.7h.9M178.2 562.0h.9M174.9 551.0h.9M183.9 560.3h.9M181.7 563.1h.9M175.4 558.0h.9M176.3 561.0h.9M197.0 565.2h.9M176.0 561.2h.9M182.8 563.8h.9M173.7 559.0h.9M193.8 562.3h.9" stroke="#aaa" stroke-opacity="0.17" stroke-width="0.9" fill="none"/>
<path d="M165.60 522.20H230.60V574.40" stroke="#cfcfcf" stroke-width="0.9" fill="none"/>
<path d="M165.60 522.20V574.40H230.60" stroke="#8e8e8e" stroke-width="0.9" fill="none"/>
<line x1="165.60" y1="545.75" x2="230.60" y2="545.75" stroke="#777" stroke-width="0.9"/>
<line x1="196.25" y1="522.20" x2="196.25" y2="574.40" stroke="#777" stroke-width="0.9"/>
<text x="163.60" y="529.14" font-size="3.4" stroke="#666" stroke-width="0.15" text-anchor="end" fill="#666" transform="rotate(-60 163.60 529.14)">10</text>
<text x="163.60" y="542.71" font-size="3.4" stroke="#666" stroke-width="0.15" text-anchor="end" fill="#666" transform="rotate(-60 163.60 542.71)">10</text>
<text x="163.60" y="555.76" font-size="3.4" stroke="#666" stroke-width="0.15" text-anchor="end" fill="#666" transform="rotate(-60 163.60 555.76)">10</text>
<text x="163.60" y="568.29" font-size="3.4" stroke="#666" stroke-width="0.15" text-anchor="end" fill="#666" transform="rotate(-60 163.60 568.29)">10</text>
<text x="176.35" y="578.20" font-size="3.4" stroke="#666" stroke-width="0.15" text-anchor="end" fill="#666" transform="rotate(-60 176.35 578.20)">10</text>
<text x="193.25" y="578.20" font-size="3.4" stroke="#666" stroke-width="0.15" text-anchor="end" fill="#666" transform="rotate(-60 193.25 578.20)">10</text>
<text x="209.50" y="578.20" font-size="3.4" stroke="#666" stroke-width="0.15" text-anchor="end" fill="#666" transform="rotate(-60 209.50 578.20)">10</text>
<text x="225.75" y="578.20" font-size="3.4" stroke="#666" stroke-width="0.15" text-anchor="end" fill="#666" transform="rotate(-60 225.75 578.20)">10</text>
<text x="190.35" y="542.15" font-size="3.3" stroke="#555" stroke-width="0.2" text-anchor="middle" font-weight="bold" fill="#555">Q1</text>
<text x="202.15" y="542.15" font-size="3.3" stroke="#555" stroke-width="0.2" text-anchor="middle" font-weight="bold" fill="#555">Q1</text>
<text x="190.35" y="552.35" font-size="3.3" stroke="#555" stroke-width="0.2" text-anchor="middle" font-weight="bold" fill="#555">Q1</text>
<text x="202.15" y="552.35" font-size="3.3" stroke="#555" stroke-width="0.2" text-anchor="middle" font-weight="bold" fill="#555">Q1</text>
<text x="327.20" y="235.00" font-size="15" stroke="#111" stroke-width="0.45" font-weight="bold" fill="#111">C</text>
<text x="421.25" y="233.75" font-size="12.6" stroke="#222" stroke-width="0.45" fill="#222" textLength="85.00" lengthAdjust="spacingAndGlyphs">A375  (pH 6.7)</text>
<rect x="409.50" y="246.20" width="6.00" height="6.00" fill="#a6a6a6"/>
<text x="418.00" y="252.50" font-size="10.2" stroke="#222" stroke-width="0.45" fill="#222" textLength="40.00" lengthAdjust="spacingAndGlyphs">Trolox (-)</text>
<rect x="470.50" y="246.20" width="6.00" height="6.00" fill="#ababab"/>
<text x="478.00" y="252.50" font-size="10.2" stroke="#222" stroke-width="0.45" fill="#222" textLength="41.00" lengthAdjust="spacingAndGlyphs">Trolox (+)</text>
<text x="380.90" y="357.40" font-size="9.8" stroke="#222" stroke-width="0.45" text-anchor="end" fill="#222" textLength="5.90" lengthAdjust="spacingAndGlyphs">0</text>
<line x1="388.50" y1="354.00" x2="391.00" y2="354.00" stroke="#d4d4d4" stroke-width="0.8"/>
<text x="380.90" y="338.05" font-size="9.8" stroke="#222" stroke-width="0.45" text-anchor="end" fill="#222" textLength="11.80" lengthAdjust="spacingAndGlyphs">20</text>
<line x1="388.50" y1="334.65" x2="391.00" y2="334.65" stroke="#d4d4d4" stroke-width="0.8"/>
<text x="380.90" y="318.70" font-size="9.8" stroke="#222" stroke-width="0.45" text-anchor="end" fill="#222" textLength="11.80" lengthAdjust="spacingAndGlyphs">40</text>
<line x1="388.50" y1="315.30" x2="391.00" y2="315.30" stroke="#d4d4d4" stroke-width="0.8"/>
<text x="380.90" y="299.35" font-size="9.8" stroke="#222" stroke-width="0.45" text-anchor="end" fill="#222" textLength="11.80" lengthAdjust="spacingAndGlyphs">60</text>
<line x1="388.50" y1="295.95" x2="391.00" y2="295.95" stroke="#d4d4d4" stroke-width="0.8"/>
<text x="380.90" y="280.00" font-size="9.8" stroke="#222" stroke-width="0.45" text-anchor="end" fill="#222" textLength="11.80" lengthAdjust="spacingAndGlyphs">80</text>
<line x1="388.50" y1="276.60" x2="391.00" y2="276.60" stroke="#d4d4d4" stroke-width="0.8"/>
<text x="380.90" y="260.65" font-size="9.8" stroke="#222" stroke-width="0.45" text-anchor="end" fill="#222" textLength="17.70" lengthAdjust="spacingAndGlyphs">100</text>
<line x1="388.50" y1="257.25" x2="391.00" y2="257.25" stroke="#d4d4d4" stroke-width="0.8"/>
<line x1="390.60" y1="257.25" x2="390.60" y2="354.00" stroke="#d4d4d4" stroke-width="0.9"/>
<text x="354.40" y="303.20" font-size="10.0" stroke="#222" stroke-width="0.45" text-anchor="middle" fill="#222" textLength="50.50" lengthAdjust="spacingAndGlyphs" transform="rotate(-90 354.40 303.20)">% Apoptosis</text>
<line x1="389.00" y1="354.20" x2="505.00" y2="354.20" stroke="#cfcfcf" stroke-width="0.9"/>
<line x1="390.80" y1="354.20" x2="390.80" y2="357.00" stroke="#cfcfcf" stroke-width="0.8"/>
<line x1="419.80" y1="354.20" x2="419.80" y2="357.00" stroke="#cfcfcf" stroke-width="0.8"/>
<line x1="448.80" y1="354.20" x2="448.80" y2="357.00" stroke="#cfcfcf" stroke-width="0.8"/>
<line x1="477.80" y1="354.20" x2="477.80" y2="357.00" stroke="#cfcfcf" stroke-width="0.8"/>
<line x1="505.00" y1="354.20" x2="505.00" y2="357.00" stroke="#cfcfcf" stroke-width="0.8"/>
<rect x="397.00" y="351.80" width="8.20" height="2.20" fill="#a6a6a6"/>
<rect x="405.20" y="351.20" width="8.20" height="2.80" fill="#ababab"/>
<line x1="401.10" y1="350.50" x2="401.10" y2="351.80" stroke="#999" stroke-width="0.8"/>
<line x1="399.50" y1="350.50" x2="402.70" y2="350.50" stroke="#999" stroke-width="0.8"/>
<line x1="409.30" y1="350.20" x2="409.30" y2="351.20" stroke="#999" stroke-width="0.8"/>
<line x1="407.70" y1="350.20" x2="410.90" y2="350.20" stroke="#999" stroke-width="0.8"/>
<rect x="426.00" y="309.90" width="8.20" height="44.10" fill="#a6a6a6"/>
<rect x="434.20" y="287.80" width="8.20" height="66.20" fill="#ababab"/>
<line x1="430.10" y1="305.30" x2="430.10" y2="309.90" stroke="#999" stroke-width="0.8"/>
<line x1="428.50" y1="305.30" x2="431.70" y2="305.30" stroke="#999" stroke-width="0.8"/>
<line x1="438.30" y1="285.70" x2="438.30" y2="287.80" stroke="#999" stroke-width="0.8"/>
<line x1="436.70" y1="285.70" x2="439.90" y2="285.70" stroke="#999" stroke-width="0.8"/>
<rect x="454.70" y="316.00" width="8.20" height="38.00" fill="#a6a6a6"/>
<rect x="462.90" y="304.80" width="8.20" height="49.20" fill="#ababab"/>
<line x1="458.80" y1="307.80" x2="458.80" y2="316.00" stroke="#999" stroke-width="0.8"/>
<line x1="457.20" y1="307.80" x2="460.40" y2="307.80" stroke="#999" stroke-width="0.8"/>
<line x1="467.00" y1="300.40" x2="467.00" y2="304.80" stroke="#999" stroke-width="0.8"/>
<line x1="465.40" y1="300.40" x2="468.60" y2="300.40" stroke="#999" stroke-width="0.8"/>
<rect x="483.40" y="320.00" width="8.20" height="34.00" fill="#a6a6a6"/>
<rect x="491.60" y="295.00" width="8.20" height="59.00" fill="#ababab"/>
<line x1="487.50" y1="315.10" x2="487.50" y2="320.00" stroke="#999" stroke-width="0.8"/>
<line x1="485.90" y1="315.10" x2="489.10" y2="315.10" stroke="#999" stroke-width="0.8"/>
<line x1="495.70" y1="291.10" x2="495.70" y2="295.00" stroke="#999" stroke-width="0.8"/>
<line x1="494.10" y1="291.10" x2="497.30" y2="291.10" stroke="#999" stroke-width="0.8"/>
<text x="395.70" y="343.70" font-size="10.0" stroke="#222" stroke-width="0.45" fill="#222" textLength="17.30" lengthAdjust="spacingAndGlyphs">N.S.</text>
<text x="430.90" y="284.19" font-size="9" stroke="#222" stroke-width="0.6" text-anchor="middle" font-weight="bold" fill="#222">*</text>
<text x="436.40" y="284.19" font-size="9" stroke="#222" stroke-width="0.6" text-anchor="middle" font-weight="bold" fill="#222">*</text>
<text x="462.40" y="300.19" font-size="9" stroke="#222" stroke-width="0.6" text-anchor="middle" font-weight="bold" fill="#222">*</text>
<text x="486.60" y="292.19" font-size="9" stroke="#222" stroke-width="0.6" text-anchor="middle" font-weight="bold" fill="#222">*</text>
<text x="492.40" y="292.19" font-size="9" stroke="#222" stroke-width="0.6" text-anchor="middle" font-weight="bold" fill="#222">*</text>
<text x="408.50" y="369.00" font-size="10.6" stroke="#222" stroke-width="0.45" text-anchor="end" fill="#222" textLength="60.00" lengthAdjust="spacingAndGlyphs" transform="rotate(-41 408.50 369.00)">No treatment</text>
<text x="437.00" y="369.00" font-size="10.6" stroke="#222" stroke-width="0.45" text-anchor="end" fill="#222" textLength="50.00" lengthAdjust="spacingAndGlyphs" transform="rotate(-41 437.00 369.00)">Oligomycin</text>
<text x="466.00" y="369.00" font-size="10.6" stroke="#222" stroke-width="0.45" text-anchor="end" fill="#222" textLength="52.50" lengthAdjust="spacingAndGlyphs" transform="rotate(-41 466.00 369.00)">Phenformin</text>
<text x="495.00" y="369.00" font-size="10.6" stroke="#222" stroke-width="0.45" text-anchor="end" fill="#222" textLength="22.00" lengthAdjust="spacingAndGlyphs" transform="rotate(-41 495.00 369.00)">TTFA</text>
<text x="327.60" y="437.00" font-size="15" stroke="#111" stroke-width="0.45" font-weight="bold" fill="#111">E</text>
<text x="401.25" y="442.50" font-size="12.6" stroke="#222" stroke-width="0.45" fill="#222" textLength="83.30" lengthAdjust="spacingAndGlyphs">A375  (pH 6.7)</text>
<rect x="397.50" y="456.00" width="6.00" height="6.00" fill="#c2c2c2"/>
<text x="406.00" y="462.00" font-size="10.2" stroke="#222" stroke-width="0.45" fill="#222" textLength="86.30" lengthAdjust="spacingAndGlyphs">Sodium pyruvate (-)</text>
<rect x="397.50" y="467.80" width="6.00" height="6.00" fill="#a4a4a4"/>
<text x="406.00" y="473.80" font-size="10.2" stroke="#222" stroke-width="0.45" fill="#222" textLength="87.50" lengthAdjust="spacingAndGlyphs">Sodium pyruvate (+)</text>
<text x="387.60" y="574.00" font-size="9.8" stroke="#222" stroke-width="0.45" text-anchor="end" fill="#222" textLength="5.90" lengthAdjust="spacingAndGlyphs">0</text>
<text x="387.60" y="560.05" font-size="9.8" stroke="#222" stroke-width="0.45" text-anchor="end" fill="#222" textLength="11.80" lengthAdjust="spacingAndGlyphs">20</text>
<text x="387.60" y="546.10" font-size="9.8" stroke="#222" stroke-width="0.45" text-anchor="end" fill="#222" textLength="11.80" lengthAdjust="spacingAndGlyphs">40</text>
<text x="387.60" y="532.15" font-size="9.8" stroke="#222" stroke-width="0.45" text-anchor="end" fill="#222" textLength="11.80" lengthAdjust="spacingAndGlyphs">60</text>
<text x="387.60" y="518.20" font-size="9.8" stroke="#222" stroke-width="0.45" text-anchor="end" fill="#222" textLength="11.80" lengthAdjust="spacingAndGlyphs">80</text>
<text x="387.60" y="504.25" font-size="9.8" stroke="#222" stroke-width="0.45" text-anchor="end" fill="#222" textLength="17.70" lengthAdjust="spacingAndGlyphs">100</text>
<text x="387.60" y="490.30" font-size="9.8" stroke="#222" stroke-width="0.45" text-anchor="end" fill="#222" textLength="17.70" lengthAdjust="spacingAndGlyphs">120</text>
<text x="360.80" y="528.80" font-size="10.0" stroke="#222" stroke-width="0.45" text-anchor="middle" fill="#222" textLength="49.50" lengthAdjust="spacingAndGlyphs" transform="rotate(-90 360.80 528.80)">% Apoptosis</text>
<line x1="397.00" y1="570.80" x2="503.00" y2="570.80" stroke="#e0e0e0" stroke-width="0.9"/>
<rect x="406.20" y="566.80" width="7.70" height="3.80" fill="#c2c2c2"/>
<rect x="415.70" y="564.50" width="7.70" height="6.10" fill="#a4a4a4"/>
<line x1="410.05" y1="565.50" x2="410.05" y2="566.80" stroke="#a8a8a8" stroke-width="0.8"/>
<line x1="408.55" y1="565.50" x2="411.55" y2="565.50" stroke="#a8a8a8" stroke-width="0.8"/>
<line x1="419.55" y1="562.50" x2="419.55" y2="564.50" stroke="#a8a8a8" stroke-width="0.8"/>
<line x1="418.05" y1="562.50" x2="421.05" y2="562.50" stroke="#a8a8a8" stroke-width="0.8"/>
<rect x="440.10" y="535.00" width="7.70" height="35.60" fill="#c2c2c2"/>
<rect x="449.90" y="505.00" width="7.70" height="65.60" fill="#a4a4a4"/>
<line x1="443.95" y1="530.00" x2="443.95" y2="535.00" stroke="#a8a8a8" stroke-width="0.8"/>
<line x1="442.45" y1="530.00" x2="445.45" y2="530.00" stroke="#a8a8a8" stroke-width="0.8"/>
<line x1="453.75" y1="502.50" x2="453.75" y2="505.00" stroke="#a8a8a8" stroke-width="0.8"/>
<line x1="452.25" y1="502.50" x2="455.25" y2="502.50" stroke="#a8a8a8" stroke-width="0.8"/>
<rect x="474.30" y="545.00" width="7.70" height="25.60" fill="#c2c2c2"/>
<rect x="484.00" y="513.30" width="7.70" height="57.30" fill="#a4a4a4"/>
<line x1="478.15" y1="542.70" x2="478.15" y2="545.00" stroke="#a8a8a8" stroke-width="0.8"/>
<line x1="476.65" y1="542.70" x2="479.65" y2="542.70" stroke="#a8a8a8" stroke-width="0.8"/>
<line x1="487.85" y1="511.00" x2="487.85" y2="513.30" stroke="#a8a8a8" stroke-width="0.8"/>
<line x1="486.35" y1="511.00" x2="489.35" y2="511.00" stroke="#a8a8a8" stroke-width="0.8"/>
<text x="415.20" y="560.09" font-size="9" stroke="#222" stroke-width="0.6" text-anchor="middle" font-weight="bold" fill="#222">*</text>
<text x="446.50" y="498.29" font-size="9" stroke="#222" stroke-width="0.6" text-anchor="middle" font-weight="bold" fill="#222">*</text>
<text x="452.00" y="498.29" font-size="9" stroke="#222" stroke-width="0.6" text-anchor="middle" font-weight="bold" fill="#222">*</text>
<text x="479.50" y="507.09" font-size="9" stroke="#222" stroke-width="0.6" text-anchor="middle" font-weight="bold" fill="#222">*</text>
<text x="485.00" y="507.09" font-size="9" stroke="#222" stroke-width="0.6" text-anchor="middle" font-weight="bold" fill="#222">*</text>
<text x="419.50" y="585.00" font-size="10.6" stroke="#222" stroke-width="0.45" text-anchor="end" fill="#222" textLength="60.00" lengthAdjust="spacingAndGlyphs" transform="rotate(-41 419.50 585.00)">No treatment</text>
<text x="453.00" y="585.00" font-size="10.6" stroke="#222" stroke-width="0.45" text-anchor="end" fill="#222" textLength="50.00" lengthAdjust="spacingAndGlyphs" transform="rotate(-41 453.00 585.00)">Oligomycin</text>
<text x="487.00" y="585.00" font-size="10.6" stroke="#222" stroke-width="0.45" text-anchor="end" fill="#222" textLength="52.50" lengthAdjust="spacingAndGlyphs" transform="rotate(-41 487.00 585.00)">Phenformin</text></svg></body></html>
